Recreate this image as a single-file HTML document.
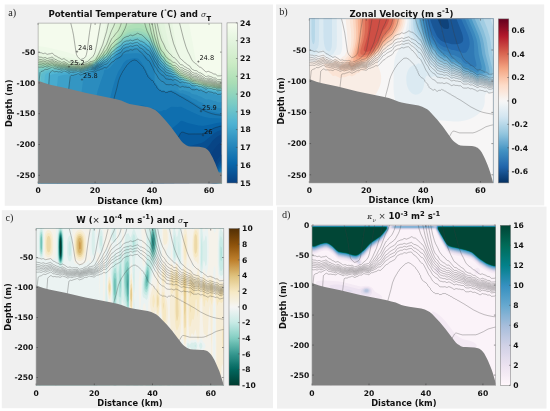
<!DOCTYPE html>
<html><head><meta charset="utf-8"><title>Figure</title>
<style>html,body{margin:0;padding:0;background:#fff}svg{display:block}</style></head>
<body>
<svg width="550" height="411" viewBox="0 0 550 411" font-family="'DejaVu Sans','Liberation Sans',sans-serif" font-weight="bold" font-size="7.6" fill="#111">
<rect width="550" height="411" fill="#fff"/>
<defs><clipPath id="ca"><rect x="38.1" y="23.1" width="183.7" height="160.2"/></clipPath><clipPath id="cb"><rect x="309.3" y="18.8" width="183.9" height="164.1"/></clipPath><clipPath id="cc"><rect x="36.1" y="228.7" width="187.7" height="156.6"/></clipPath><clipPath id="cd"><rect x="312" y="225.1" width="183.7" height="160.2"/></clipPath></defs>
<rect x="4.7" y="4.5" width="268.3" height="201.3" fill="#f0f0f0"/>
<rect x="276.1" y="4.4" width="268.1" height="201" fill="#f0f0f0"/>
<rect x="1.8" y="210.2" width="271.2" height="198" fill="#f0f0f0"/>
<rect x="277" y="206.6" width="269.5" height="202" fill="#f0f0f0"/>
<g clip-path="url(#ca)">
<rect x="37.1" y="22.1" width="185.7" height="162.2" fill="#084081"/>
<path fill="#084586" d="M36.6 21.6l187 0 0 120.1-2 0.4-2 1.2-2 1.8-3 3.5-2 3.2-8 15.1-3 4.6-4 3.8-5 5.2-4 3.7-1 0.5-1 0.1-3 0-1 0.3-0.5 0.5-145.5 0zM223.6 153.9l0 31.7-16.6 0 5.9-17 2.1-5 2.3-4 2.3-3.2 2-1.9 1-0.5z"/>
<path fill="#084f91" d="M36.6 21.6l187 0 0 112.6-2 0.3-2 0.7-2.3 1.4-2.7 2.1-1.8 1.9-3.2 4.2-5 5.9-3 2.9-13 6.7-2 0.1-3-0.6-1 0.1-1 0.5-1 2.2-3 10.8-4 12.2-137 0zM223.6 158.7l0 26.9-13.7 0 4-13 3.2-7 1.7-3 1.8-2.3 1-0.9 1-0.5z"/>
<path fill="#085a9d" d="M36.6 21.6l187 0 0 108.2-2 0.1-2 0.6-2.6 1.1-2.4 1.3-10 8.3-3 1.9-13 3.1-2-0.2-3-0.8-1-0.1-1 0.2-1 1.5-3 7.9-7 15.1-4.8 9.8-2.4 6-126.8 0zM223.6 161.6l0 24-12.4 0 3-10 3.1-7 1.7-3 1.6-2.3 1-0.9 1-0.6z"/>
<path fill="#0864a8" d="M36.6 21.6l187 0 0 104.3-4 0.5-5 1.5-5 2.7-6 2.8-2 0.5-13 0.1-2-0.5-3-1.1-2-0.2-1 1-3 5.2-7.8 11.2-8 13-6 11-5.6 12-113.6 0zM223.6 163.9l0 21.7-11.5 0 2.1-7 2-5 1.9-4 2.5-3.9 1-1 1-0.6z"/>
<path fill="#0f6faf" d="M36.6 21.6l187 0 0 100.9-3 0.1-4 0.5-3 0.6-4 1.1-6 1-2 0-3-0.4-10-2.2-6-2.3-1-0.2-1 0.4-3 2.9-7 5.4-5 5.8-2 1.8-4 4.3-6.2 5.3-4.8 6.2-3 3.1-3.9 5.7-4.5 8-3.4 7-3.7 9-93.5 0zM223.6 165.8l0 19.8-10.7 0 2.2-7 2.1-5 1.4-2.8 1.3-2.2 1.7-2 1-0.6z"/>
<path fill="#1878b4" d="M36.6 21.6l187 0 0 96.9-14-0.6-6-1.1-5-1.7-11-5.2-6-3-1-0.1-3 0.1-6-0.2-1 0.2-5 3.3-2-0.1-2 1.1-3 0.2-2-1.3-2-0.7-1-0.8-1-0.2-2 0.4-2 0.2-1-0.8-2-1.9-2-0.8-2-0.2-4 0.8-2 0.9-2 1.7-3.5 4.9-2.5 4-2.2 4-3.8 8-2 4.8-1 3-6 22.7-5.8 25.5-70.2 0zM223.6 167.4l0 18.2-10.1 0 2.5-7 3.2-7 1.4-2.2 1-1.1 1-0.7z"/>
<path fill="#2182b9" d="M36.6 21.6l187 0 0 91.9-3-0.2-3-0.3-7-1.8-5-1.8-7-3.6-10.1-6.2-8.9-4.5-4.2-2.5-4.7-2-1.1 0.7-2 0.2-1 0.7-1 0.1-2-1.7-2 0.4-0.4-0.4-2.6-1.4-0.6-0.6-0.3-1-0.9-1-0.2-0.9-2.6-3.1-0.2-1-0.9-1-0.3-0.9-2.8-3.1-2.2-2.9-3-6.2-3-5.1-3-3.4-1-0.6-3-0.3-4 0.6-2 0.7-2 0.5-3 2.9-3 5.5-1 1.3-1.3 2-2.7 6.6-3 9.8-8.2 34.6-3.8 17-3.1 16-5.2 30-55.7 0zM223.6 168.9l0 16.7-9.5 0 3-8 2.4-5 1.1-1.7 1-1.1 1-0.7z"/>
<path fill="#2b8cbe" d="M36.6 21.6l187 0 0 86.7-1-0.1-2 0.1-3-0.2-2-0.8-2-0.3-5-1.6-2-0.2-1-0.4-4-2.2-3-1.2-2-1.3-5-2.1-2-1.7-7-2.7-2-0.2-5-2.6-1-0.3-2 0.1-1-0.5-1-0.1-2 0.8-3 0.4-2-1.3-2 0-0.9-0.3-1.4-1-1.8-2 0-1-1-1-0.4-1-1.5-2-0.1-15-0.9-2.2-2-2.8-1.8-2-2.5-2-3.1-2-2.6-1.3-2.2-0.7-1.8-0.3-3 0-9 0.4-2 0.5-3 1.6-2 1.6-7 8.4-2 2.1-2 1.3-3 0.7-0.6 0.7-0.1 2-3.3 9.1-3 9.4-4.4 18.5-2.2 10-1.4 7.6-3 18.3-6.2 40.1-43.8 0zM223.6 170.2l0 15.4-8.9 0 2.6-7 2.3-4.8 2-2.7 1-0.7z"/>
<path fill="#3496c3" d="M36.6 185.6l0-164 187 0 0 80.5-1-0.2-2 0.4-3 0-2-1.2-2-0.2-2-0.8-3-0.9-2 0.3-1-0.2-5-2.9-1-0.1-1-0.3-1-0.8-1-0.5-2-0.1-3-0.9-2-2-2-0.3-2-0.6-1 0-2-0.7-1 0.1-1 0.6-0.9-0.2-1.2-1-0.1-5-0.7-1-1.1-0.5-0.4-0.5-6.6-4.6-4-2.4-2-1.6-2-2.6-5-8.4-3-4.3-2-2.5-2-1.8-2-1.3-3.1-1.5-2.9-1.1-3-0.6-4-0.1-8 0.5-2 0.3-1 0.4-2 1.1-2 1.4-2 2-6 7-2 1.9-1 0.6-2 0.8-5 0.5-2 0.6-3 1.6-5 3.4-6.7 3.7-0.3 0.4-1 0.6-10 75.7-4.6 33.3zM223.6 171.4l0 14.2-8.4 0 2.3-6 2.1-4.5 2-2.8 1-0.7z"/>
<path fill="#3ea1c9" d="M36.6 185.6l0-164 187 0 0 74.3-6-0.7-2-0.7-9-2.1-8-2.3-15-6.1-4-2-3-1.9-7-5.3-4-2.7-2-1.8-2-2.5-6-9.4-3-4.1-2-2.1-2-1.5-2.1-1.1-3.9-1.5-3-0.7-3-0.2-5 0.3-5 0.4-2 0.4-1 0.4-2 1.2-2 1.4-8 9.1-2 1.8-1 0.6-2 0.8-5 0.9-2 0.6-2.7 1.5-5.3 3.6-8 3.8-12.6 2.6-0.9 1-13 108zM223.6 172.5l0 13.1-7.9 0 2.3-6 2-4 1.6-2.1 1-0.7z"/>
<path fill="#47abcf" d="M36.6 185.6l0-164 187 0 0 72.5-5-0.7-6-1.2-15-4-13-5.3-5-2.4-2-1.3-3-2.3-5-4.1-4-3-2-1.9-2-2.5-5-7.9-4-5.4-2-2.2-2-1.4-2-1.1-4-1.4-3-0.7-4-0.1-5.9 0.4-4.1 0.6-2 0.7-2 1.2-2 1.5-7 8.1-3 2.8-1 0.6-2 0.9-5 1.1-2 0.7-3 1.8-5 3.4-7 3.3-3 0.7-17 1.8-4 0.8-2.6 1-8.4 83.5-2.2 25.5zM223.6 173.6l0 12-7.4 0 1.9-5 2-4 1.5-2 1-0.8z"/>
<path fill="#51b5d2" d="M36.6 185.6l0-164 187 0 0 71.1-5-0.6-5-0.9-16-4-13-5.3-4-1.9-3-1.9-12-10.1-2-2-2.6-3.4-5.4-8.3-3-4.1-2-2.2-2-1.4-2-1.1-4-1.4-3-0.6-4-0.1-6 0.4-4 0.7-2 0.8-2 1.3-2 1.5-7 8.3-3 2.7-3 1.5-5 1.5-2 0.7-2.9 1.8-5.1 3.6-7 3.1-2 0.5-2 0.2-16 0.8-8 0.7-5 1-2.3 1.1-5.5 82-2.4 28zM223.6 174.6l0 11-7 0 2-5 2-3.7 1-1.3 1-0.8z"/>
<path fill="#5dbbce" d="M36.6 167.8l0-146.2 187 0 0 70-5-0.4-5-0.9-14-3.3-6-2.1-9-3.8-4-2-2-1.2-2.8-2.3-10.1-9-1.9-2-2.4-3-5.8-8.9-3-4.1-2-2.2-2-1.5-2-1.1-4-1.4-3-0.6-4-0.1-6 0.5-3 0.5-3 1.1-2 1.4-2 1.6-6.5 7.8-1.5 1.6-2 1.7-3 1.6-7 2.5-2 1.2-6 4.2-6 2.7-3 0.9-3 0.2-19 0.3-7 0.3-5 0.8-2 1-1.2 1-0.5 1-1.9 31-1.8 23-1.6 15.4zM223.6 175.6l0 10-6.6 0 2.1-5 1.5-2.8 1-1.2 1-0.8z"/>
<path fill="#69c2ca" d="M36.6 21.6l187 0 0 69.2-5-0.5-6-0.9-14-3.3-6-2.2-7-3-4-2-3-1.8-2-1.6-12-11.4-3-3.7-5-7.7-5-6.8-2-1.9-3-1.8-3-1.1-3-0.7-4-0.3-7 0.5-3 0.6-2 0.8-2 1.1-2 1.6-2 2-3 3.9-3 3.4-3 2.7-3 1.7-7 2.8-2 1.2-6 4.4-5 2.3-3 1-3 0.3-25-0.1-6.7 0.3-3.7 1-1.7 1-1.2 1-1 1-1.7 18.7-3 25.4zM223.6 176.4l0 9.2-6.2 0 1.7-4 1.5-2.8 1-1.3 1-0.8z"/>
<path fill="#75c8c6" d="M36.6 21.6l187 0 0 68.4-4-0.2-6-0.9-8-1.6-7-1.8-4-1.4-11-4.8-3-1.6-2-1.3-3.2-2.8-11-11-2.8-3.5-5-7.8-3-4.2-3-3.7-2-1.7-2-1.1-4-1.4-3-0.6-4 0-6 0.5-2 0.4-3 1.1-2 1.2-3 2.6-6 7.4-2 2.2-2 1.7-3 1.8-7 3-8 5.7-6 2.6-3 0.8-4 0.2-25-0.6-6 0.1-4 0.9-3.3 1.4-2 1-1.3 1-0.4 1.1zM223.6 177.3l0 8.3-5.8 0 1.2-3 1.6-2.9 1-1.4 1-0.8z"/>
<path fill="#81cec2" d="M36.6 21.6l187 0 0 67.7-5-0.3-6-0.8-6-1.2-8-2-5-1.8-7-3-6-3.1-2.1-1.5-2.9-2.5-11.1-11.5-2.9-3.8-5-7.8-3-4.2-3-3.9-2-1.7-2-1.2-4-1.4-3-0.6-4-0.1-6 0.6-2 0.4-3 1.3-2 1.3-3 2.7-3.3 4.4-4.7 5.3-2 1.8-3 1.8-7 3.3-8 5.8-6 2.7-3 0.7-4 0.2-26-1-5 0-3.8 0.4-7.2 1.6zM223.6 178.1l0 7.5-5.4 0 1.4-3.3 1-1.8 1-1.3 1-0.8z"/>
<path fill="#8dd3be" d="M36.6 21.6l187 0 0 67.1-5-0.2-5-0.7-8-1.6-7-1.7-4-1.4-7-3-4-1.9-3-1.7-2-1.4-2.8-2.5-11.1-12-3.1-4-5-7.9-4-5.7-2-2.6-2-1.8-2-1.3-4-1.4-3-0.7-4 0-6 0.6-2 0.6-3 1.4-2 1.4-3 2.7-4.2 5.7-3.8 4.3-2 1.8-3 1.9-7 3.6-8 5.9-4 1.9-3 1.1-3 0.5-4 0-29-1.4-4 0.1-8 0.9zM223.6 178.9l0 6.7-5.1 0 1.4-3 1.7-2.6 1-0.8z"/>
<path fill="#99d7ba" d="M36.6 21.6l187 0 0 66.5-5-0.2-6-0.7-6-1.2-8-1.9-4-1.4-7-3.1-4-1.9-3-1.8-2-1.4-3.1-2.9-10.7-12-3.2-4.3-5-7.9-4-5.8-3-3.7-2-1.7-2-1.1-3-1.1-3-0.7-4 0-6 0.7-2 0.6-3 1.7-2 1.5-3 2.9-4 5.6-3.7 4.3-2.3 2.1-3 2-8 4.5-7 5.4-2 1-4 1.6-3 0.8-3 0.1-31-1.8-12 0.4zM223.6 179.7l0 5.9-4.7 0 1.7-3.5 1-1.3 1-0.9z"/>
<path fill="#a5dcb6" d="M36.6 21.6l187 0 0 65.9-5-0.1-5-0.6-6-1-9-2.2-4-1.4-7-3-4-2-3-1.8-2.3-1.8-3.1-3-9.5-11-4.1-5.5-9-14.1-3-3.9-2-1.9-2-1.2-3-1.2-3-0.8-4 0-6 0.9-2 0.8-2 1.2-3 2.3-3 3.1-4 5.8-3.8 4.5-2.2 2-4.2 3-6.8 4.1-7 5.4-2 1.1-4 1.5-3 0.7-4 0.1-30-2-12 0zM223.6 180.4l0 5.2-4.4 0 1.4-2.7 1-1.4 1-0.8z"/>
<path fill="#afe0b8" d="M36.6 21.6l187 0 0 65.4-5-0.1-6-0.7-7-1.3-7-1.7-4-1.4-7.2-3.2-3.8-1.9-3.3-2.1-2.5-2-1.9-2-10.1-12-4.2-5.8-10-15.9-3-4-2-1.8-2-1.2-3-1.3-2-0.5-3-0.1-3 0.4-4 0.8-2 1.1-4 3.2-4 4.3-4 6-4 4.8-2 1.9-5.5 4.1-5.5 3.5-7 5.6-5 2.2-3 0.9-4 0.2-31-2.3-12-0.3zM223.6 181.1l0 4.5-4 0 1-2 1-1.4 1-0.8z"/>
<path fill="#b9e3bc" d="M36.6 21.6l187 0 0 64.8-5 0-6-0.7-6.2-1.1-7.8-1.8-5-1.9-7-3.2-3.9-2.1-3-2-2.2-2-2.8-3-6.5-8-3-4-3.6-5.2-10-16.6-4-6-2-1.8-3-2.1-2-1.1-2-0.5-2 0-3 0.7-4 1.4-1 0.7-5 5.1-4 4.8-4 6.4-3 3.8-2.2 2.4-6 5-5.8 3.8-6 5.1-2 1.2-3 1.3-4 1.3-4 0.2-31-2.5-12-0.6zM223.6 181.8l0 3.8-3.7 0 1.7-2.7 1-0.9z"/>
<path fill="#c3e7c1" d="M36.6 62.5l0-40.9 91.2 0-2.4 4-5.8 8.1-4 6.9-4.6 6-3.1 3-4.6 4-4.7 3.2-6 5.1-2.8 1.7-5.2 1.9-2 0.4-2 0-4-0.2-28-2.5zM145.9 21.6l77.7 0 0 64.2-5 0-6-0.6-7-1.2-7-1.7-4.6-1.7-6.6-3-3.8-2-4-2.7-2.4-2.3-3.5-4-6.2-8-4.1-6-2.8-4.4-6.1-10.6-4.9-9-3-6.1zM223.6 182.4l0 3.2-3.3 0 1.3-2 1-0.9z"/>
<path fill="#ccebc6" d="M36.6 61.6l0-40 87.5 0-7.5 15-3 4.8-2.3 3.2-2.7 3-5.2 5-4.8 3.5-5 4.5-3 2.1-6 2.3-2 0.3-2 0.1-32-3zM148.8 21.6l74.8 0 0 63.6-5 0.1-6-0.6-6.4-1.1-7.6-1.8-5.8-2.2-6.3-3-3.5-2-3.4-2.4-3.5-3.6-6.2-8-4.2-6-4.1-6.4-7.8-14.6-3.1-7zM223.6 183.1l0 2.5-2.9 0 0.9-1.4 1-0.8z"/>
<path fill="#d1edcb" d="M36.6 60.6l0-39 83.7 0-2.5 8-2 5-2.7 5-2.7 4-7 8-4.8 3.8-6 5.4-3 1.8-3 1.2-3 0.8-4 0.1-31-3.1zM151.2 21.6l72.4 0 0 63-5 0.1-5-0.4-5-0.8-9-1.9-5.5-2-6.5-3-5-2.9-3-2.3-2-1.9-2-2.4-6.3-8.5-3.9-6-3.8-6.5-2.8-5.5-3.8-8-1.9-5zM221.1 185.6l0.5-0.7 1-0.9 1-0.3 0 1.9z"/>
<path fill="#d7efd1" d="M36.6 59.6l0-38 80.4 0-1.4 6.2-1.8 5.8-2.2 5-2.3 4-4.3 6-1.7 2-4.7 3.9-5.4 5.1-2.9 2-5.7 2.2-2 0.3-2 0-32-3.4zM153.7 21.6l69.9 0 0 62.2-5 0.2-6-0.4-6-1-8.4-2-5.1-2-6.2-3-3.3-2-4-3-2-2-2-2.5-6-8.7-3-4.8-4.9-9-2.4-5-2.7-7-1.6-5zM223.6 184.3l0 1.3-2.1 0 1.1-1z"/>
<path fill="#dcf1d7" d="M36.6 58.5l0-36.9 77.1 0-1.5 8-1.3 5-2 5-3.1 6-2 3-1.2 1.4-4 3.6-5.1 5-2.9 2.1-4 1.7-2 0.6-2 0.4-2 0-31-3.6zM156.3 21.6l67.3 0 0 61.4-6 0.2-6-0.5-6.7-1.1-6.3-1.5-3.9-1.5-8.2-4-3.1-2-3.8-3-2-2.2-2-2.6-4.1-6.2-3.9-6.7-4-7.9-2-4.3-2-5.3-2-6.8zM222.1 185.6l0.5-0.4 1-0.3 0 0.7z"/>
<path fill="#e2f4dd" d="M36.6 57.2l0-35.6 74.3 0-1.4 8-1.3 6-2 6-1.7 4-2.1 3-7.8 8-3 2.6-2 1.1-3 1.3-2 0.6-2 0.4-2 0-16-2.2zM159.1 21.6l64.5 0 0 60.4-5 0.3-6-0.3-5-0.7-8-1.7-5.3-2-6-3-4.7-3-3.6-3-2.4-2.8-3-4.4-5-8.8-2-4.3-3.1-7.7-2.8-8-1.1-3.9zM223.2 185.6l0.4-0.1 0 0.1z"/>
<path fill="#e8f6e2" d="M36.6 55.5l0-33.9 72.1 0-1.4 9-1.2 6-1.4 5-1.1 2.6-2.3 3.4-7 8-2.7 2.5-2.7 1.5-4.3 1.6-2 0.3-2 0-15-2.4-17-2.2zM163.9 21.6l59.7 0 0 59.1-5 0.4-6-0.2-6-0.8-7-1.6-5-1.9-5.8-3-4.4-3-3.3-3-2.5-2.9-2-3.1-3-5.8-3-7.2-2-5.9-1-3.6-2-8.8z"/>
<path fill="#eef9e8" d="M36.6 53l0-31.4 69.7 0-1.7 10.6-1 4.4-1 3.4-1.5 3.6-3.1 5-4.4 5.8-2.3 2.2-3.6 2-2.5 1-1.6 0.4-2 0.1-2-0.1-2.1-0.4-4.9-1.4-6-1-19-2.8zM172 21.6l51.6 0 0 57.1-5 0.6-5 0-6.7-0.7-4.6-1-3.4-1-2.3-0.9-3.9-2.1-4.7-3-3.3-3-2.3-3-1.7-3-1.1-2.5-1.2-3.5-2.2-10z"/>
<path fill="#f4fbed" d="M36.6 21.6l63 0-1.9 13-1 5-1 4-1.1 3.3-1 2.1-1.6 2.6-1.4 1.7-1.5 1.3-3.5 2.2-2 0.7-2 0.2-1.4-0.1-1.6-0.4-1.4-0.6-4.6-2.7-6-1.8-20-4.8-10-1.6zM188.7 21.6l33.9 0 0 3 1 1 0 46.1-2 1-4 1.1-4 0.4-4-0.1-4-0.5-2.7-1-1.7-1-2.1-2-1.7-3-1.3-5z"/>
<path d="M179.2 21.6l4.4 17.4 2.3 7.6 1.9 5 1.8 3.4 2 4.4 1 1.5 2 2.1 1 0.7 1 0.5 1 0.9 1 1.3 1 0.7 1 0.2 1 0.7 4 3.6 1 0.3 1-0.4 1-0.1 2 1 1 0.3 2 1.2 2 0.3 2 1.7 3-0.1 2-0.7 1 0.4M70.4 21.6l2.2 9 1 5.1 2.3 15.9 0.6 3 1 2 2.1 2.3 1 0.7 3-1.1 1-0.7 1-1.2 0.8-2 0.6-3 2.5-19 1.8-11M168.4 21.6l2.8 13 2.4 9 3.1 8 2.9 5.9 1 1.4 2 1.4 2 2.2 1 0.6 2 1.7 2 1.1 2 2.9 1 0.7 2 1 2 0.2 1 0.7 1 1.1 1 0.4 1 0 4 2.7 1 0.9 1 0.2 1-0.6 1-0.2 1.7 0.7 1.3 0.3 2 1.1 2 0.1 2 1.7 3-0.2 2-0.9 1 0.4M156.8 21.6l1.8 8.8 2 7.2 1 2.7 2 3.7 2 4.6 1 1.5 2 2.5 1 1.1 1 0.7 2 2.5 1 0.7 1 0.3 1 0.9 3 3.6 1 1.4 0.9 0.8 2.1 0.4 2 1.7 1 0.4 2 1.3 2 0.8 2 2.7 1 0.6 2 0.7 2 0.1 1 0.6 1 1 1 0.3 1 0 1 0.5 1 0.9 2 1.1 1 0.9 1 0.2 1-0.6 1-0.3 2 0.8 1 0.1 2 1.1 2 0 2 1.7 3-0.3 2-0.8 1 0.3M36.6 53.6l1-1 1-0.3 1 0.3 2 0.3 1 0.5 1 0.2 1-0.4 1 0.1 1 0.7 1 0.3 1-0.3 2-0.3 1-0.4 1 0 2 2.2 2 0.8 1.8 1.3 1.2 0.4 2 1.3 1-0.1 1-0.5 1 0.3 1 0.8 2 1.2 1 0.9 1 0.3 1-0.3 1 0 1 0.6 1 0.2 1-0.1 2 0.1 1-0.2 1 0.1 2 1.6 3-0.9 2-1.2 2-0.4 1-1 1-1.3 2-1.5 1.2-1.3 1.3-2 0.8-2 0.7-2.5 1-4.9 4.1-23.6M154.4 21.6l2.8 15 1.3 6 1.1 3.8 1 2.7 1 1.7 2 2 2 3.6 1 1.1 2.6 2.1 1.4 0.6 2 1.8 1 0.4 1 0 1 0.5 3 3 1 1.2 1 0.7 1-0.1 1 0.2 2 1.4 1 0.3 2 1.1 1 0.2 1 0.5 2 2.6 1 0.5 2 0.6 2 0 1 0.5 1 1 1 0.3 1-0.1 1 0.5 1 0.8 2 1.1 1 0.9 1 0.2 1-0.7 1-0.3 2 0.7 1 0.2 2 1 2 0.1 2 1.6 3-0.3 2-0.9 1 0.4M36.6 58.1l1-1 1-0.3 1 0.3 2 0.2 1 0.5 1 0.2 1-0.4 1 0 1 0.7 1 0.2 1-0.4 2-0.4 1-0.5 1 0 2 2 2 0.7 1 0.7 1 0.5 1 0.2 2 1.1 1-0.2 1-0.5 1 0.1 1 0.8 2 1.1 1 0.8 1 0.2 1-0.4 1-0.1 1 0.5 1 0.2 1-0.3 2 0 1-0.4 1 0.1 2 1.5 3-0.8 2-1.2 2-0.2 1-0.7 1-1 1-0.4 1 0 3-0.8 1-1 3-5.6 4-9.2 4-13.3 2.2-10M151.7 21.6l2.9 14.5 2.8 9.5 1.3 4 1.8 4 1.1 2.1 2 1.6 2 3.4 1 0.9 3 1.9 1 0.2 1 0.7 1 0.9 1 0.3 1-0.2 1 0.4 3 2.6 1 1.2 1 0.6 1-0.2 1 0 2 1.3 1 0.2 2 1.1 1 0.1 1 0.4 2 2.5 1 0.5 2 0.5 2-0.1 1 0.5 1 1 1 0.3 1-0.1 1 0.4 1 0.8 2 1.1 1 0.8 1 0.2 1-0.7 1-0.3 2 0.7 1 0.1 2 1.1 2-0.1 2 1.7 3-0.4 2-0.8 1 0.4M36.6 60.4l1-1 1-0.3 1 0.3 2 0.2 1 0.5 1 0.1 1-0.4 1 0 1 0.6 1 0.3 2-0.8 1-0.1 1-0.5 1-0.1 2 2 2 0.6 2 1.1 1 0.1 2 1.1 1-0.2 1-0.6 1 0.1 3 1.7 1 0.8 1 0.3 1-0.5 1-0.1 1 0.5 1 0.1 1-0.3 2-0.1 1-0.4 1 0.1 2 1.5 3-0.9 2-1.2 1-0.1 1 0.1 1-0.7 1-0.9 1-0.3 1 0.1 2-0.2 1 0.1 1-0.7 2-3.1 1.3-1.6 3.7-5.8 2-4.3 2-3.3 5-13.7 2-4 1.9-4.9M148.9 21.6l2.4 11 2.3 8.6 1 3.4 4 9.6 3 4.8 2 1.7 2 3.1 1 0.8 2 1.2 1 0.5 1 0.2 1 0.5 1 0.9 1 0.1 1-0.2 1 0.3 3 2.4 1 1.1 1 0.5 1-0.2 1 0 2 1.1 1 0.2 2 1 1 0.1 1 0.3 2 2.5 1 0.4 2 0.5 2-0.2 1 0.5 1 0.9 1 0.3 1-0.1 1 0.4 1 0.8 2 1 1 0.8 1 0.2 1-0.7 1-0.3 2 0.6 1 0.2 2 1 2-0.1 2 1.6 3-0.3 2-0.9 1 0.4M36.6 62.3l1-1.1 1-0.3 1 0.3 2 0.2 1 0.4 1 0.1 1-0.4 1 0 1 0.6 1 0.2 2-0.8 1-0.2 1-0.4 1-0.1 2 1.9 2 0.5 1 0.6 1 0.5 1 0.1 2 1 1-0.3 1-0.6 1 0.2 3 1.6 1 0.8 1 0.2 1-0.5 1-0.1 1 0.4 1 0.1 1-0.3 2-0.1 1-0.4 1 0 2 1.5 3-0.8 2-1.2 1-0.2 1 0.1 2-1.4 1-0.2 1 0.2 2 0 1 0.2 1-0.6 2-2.7 1.7-1.7 1.3-1.8 2-2.3 2-3.6 2-2.2 5-10.8 1-1.3 1-0.9 2-2.8 2-2.2 1.3-2.1 1.7-4 1.1-4M144.4 21.6l0.9 4 1.6 5 2.7 5.7 5 13.4 4 8.2 3 3.9 2 1.7 2 3 1 0.8 2 1.1 1 0.4 1 0 1 0.6 1 0.7 1 0.1 1-0.3 1 0.3 3 2.2 1 1.1 1 0.5 1-0.3 1-0.1 2 1.1 1 0.1 2 0.9 1 0.1 1 0.3 2 2.4 1 0.4 2 0.4 2-0.2 1 0.4 1 0.9 1 0.2 1-0.1 1 0.4 1 0.8 2 1 1 0.8 1 0.1 1-0.7 1-0.3 2 0.6 1 0.2 2 1 2-0.1 2 1.6 3-0.4 2-0.8 1 0.4M36.6 64l1-1 1-0.4 1 0.3 2 0.1 1 0.4 1 0.1 1-0.4 1-0.1 1 0.6 1 0.2 2-0.8 1-0.2 1-0.5 1-0.1 2 1.9 2 0.4 1 0.6 1 0.4 1 0.1 2 0.9 1-0.3 1-0.6 1 0.1 3 1.6 1 0.8 1 0.2 1-0.5 1-0.2 1 0.5 1 0.1 1-0.4 2-0.1 1-0.4 1 0 2 1.5 3-0.9 2-1.2 1-0.1 1 0.1 2-1.4 1-0.1 1 0.3 2 0.1 1 0.2 1-0.4 2-2.5 1-0.6 0.7-0.7 1.3-1.5 2-1.9 2-3 2-1.7 5-9.3 1-1 1-0.7 2-2.4 2-1.2 3-2.4 1-1.4 3.4-6.5 1.1-3 0.9-4M36.6 66l1-1.1 1-0.4 1 0.2 2 0.1 1 0.4 1 0 1-0.5 1-0.1 1 0.6 1 0.1 1.6-0.7 1.4-0.4 1-0.5 1-0.1 2 1.8 2 0.4 1 0.5 1 0.4 1 0 2 1 1-0.4 1-0.6 1 0.1 3 1.5 1 0.8 1 0.2 1-0.6 1-0.1 1 0.4 1 0.1 1-0.4 2-0.2 1-0.3 1-0.1 2 1.5 3-0.9 2-1.2 1-0.1 1 0.2 2-1.4 1-0.1 4 0.9 1-0.4 2-2.2 1.5-0.8 1.5-1.5 1.9-1.5 2.1-2.7 1-0.5 1-0.7 5-8.3 1-0.9 1-0.5 2-2.3 2-1 2-1.4 1-0.4 1-1.1 1-1.7 1-1.1 3-1.4 2-0.4 1-0.8 1-0.4 2 0.7 3-1.3 2-1.2 1 0.4 1 0.7 2 0.5 3 2.5 2 2.4 2 1.6 1 1.4 3 6.3 2 4.8 2 3.4 2 4 3 3.3 2 1.7 2 2.9 1 0.7 3 1.3 1 0 1 0.5 1 0.7 1 0.1 1-0.4 1 0.2 3 2.1 1 1 1 0.5 1-0.4 1-0.1 2 1 1 0.1 2 0.8 1 0.1 1 0.2 2 2.4 1 0.4 2 0.3 2-0.3 1 0.5 1 0.8 1 0.2 1-0.1 1 0.4 1 0.7 2 1 1 0.8 1 0.1 1-0.7 1-0.3 2 0.6 1 0.1 2 1 2-0.1 2 1.6 3-0.4 2-0.9 1 0.4M36.6 68.7l1-1.2 1-0.4 1 0.1 2-0.2 1 0.3 1-0.1 1-0.6 1-0.1 1 0.5 1 0 1-0.5 2-0.7 1-0.5 1-0.2 2 1.7 2 0.3 2 0.9 1 0 2 0.9 1-0.4 1-0.7 1 0.1 3 1.5 1 0.7 1 0.2 1-0.6 1-0.1 1 0.4 1 0.1 1-0.4 2-0.2 1-0.4 1-0.1 2 1.5 3-0.9 2-1.2 1-0.1 1 0.1 2-1.3 1-0.1 1 0.4 2 0.2 1 0.4 1-0.4 1-1.2 1-0.9 1-0.3 4-2.8 2-2.2 1-0.3 1-0.4 3-4.2 2-3.1 1-0.7 1-0.5 2-2.3 4-2.4 1-0.4 1-1.1 1-1.7 1-1 3-1.2 2 0 1-0.6 1-0.3 1 0.5 1 0.3 2-0.9 3-0.8 1 0.7 1 1 1 0.4 1 0.1 3 1.7 1 0.9 1 1.2 1 0.7 1 0.3 1 1.1 3 5.8 2 4.4 2 3.1 2 3.8 3 3.1 2 1.5 2 2.9 1 0.6 3 1.1 1-0.1 1 0.5 1 0.7 1 0 1-0.5 1 0.3 3 1.9 1 1 1 0.4 1-0.4 1-0.2 2 1 1 0 2 0.8 1 0 1 0.2 2 2.3 1 0.3 2 0.3 2-0.3 1 0.4 1 0.8 1 0.2 1-0.2 1 0.4 1 0.7 2 1 1 0.8 1 0.1 1-0.7 1-0.4 2 0.6 1 0.1 2 0.9 2 0 2 1.5 3-0.4 2-0.8 1 0.4M36.6 103.4l3.4-30.8 1-1 2.6-1 1.1-1 0.9-0.3 1 0.2 1-0.1 1.3-0.8 1.7-0.7 1-0.6 1-0.2 2 1.6 2 0.1 2 0.7 1 0 2 0.8 1-0.4 1-0.7 1 0 3 1.4 1 0.7 1 0.2 1-0.6 1-0.2 1 0.4 1 0.1 1-0.4 2-0.3 1-0.4 1 0 2 1.4 3-0.9 2-1.2 1-0.1 1 0.1 2-1.3 1-0.1 1 0.4 2 0.2 1 0.4 1-0.4 1-1.1 1-0.8 1-0.3 1-0.5 1-0.8 2-1.1 2-2 1-0.1 1-0.3 3-3.7 2-3 1-0.6 1-0.3 2-2.1 5-2.5 1-1.1 1-1.7 1-1.2 3-1.3 2-0.1 1-0.7 1-0.3 2 0.7 2-0.9 2-0.4 1-0.1 1 0.9 1 1.2 1 0.5 1 0.2 2 1.5 1 0.5 1 1 1 1.3 1 0.6 1 0.3 1 1 3 5.6 2 4.3 2 2.8 2 3.8 3 2.9 2 1.3 2 2.8 1 0.6 1 0.1 1 0.5 1 0.1 1 0 1 0.3 1 0.7 1-0.1 1-0.4 1 0.1 3 1.8 1 1 1 0.3 1-0.4 1-0.2 2 0.9 1 0 2 0.7 1-0.1 1 0.2 2 2.3 1 0.3 2 0.2 2-0.4 1 0.4 1 0.7 1 0.2 1-0.2 1 0.4 1 0.7 2 0.9 1 0.8 1 0.1 1-0.8 1-0.3 2 0.5 1 0.1 2 0.9 2-0.1 2 1.6 3-0.4 2-0.9 1 0.4M41.4 185.6l2.3-27 5.8-85 0.5-1 1.6-1.4 1-0.6 2 1.2 2-0.3 2 0.5 1-0.2 2 0.6 1-0.5 1-0.8 1 0 3 1.2 1 0.7 1 0.1 1-0.6 1-0.2 1 0.3 1 0 1-0.4 2-0.3 1-0.4 1-0.1 2 1.4 3-1 2-1.2 1-0.1 1 0.1 1-0.5 1-0.8 1 0 3 0.6 1 0.4 1-0.4 1-1.1 1-0.7 1-0.2 1-0.4 1-0.7 2-0.9 1-1 1-0.7 1 0.1 1-0.2 3-3.3 2-2.8 1-0.6 1-0.3 2-2.1 2-0.8 1-0.7 2-0.9 1-1.1 1-1.8 1-1.2 3-1.3 2-0.2 1-0.7 1-0.4 2 0.6 2-0.9 2-0.4 1 0.1 2 2.3 1 0.6 1 0.3 3 2.6 2 2.5 1 0.8 1 0.3 1 1 3 5.6 2 4.3 2 2.7 2 3.8 3 2.7 2 1 2 2.8 1 0.4 1 0.1 1 0.3 1 0.1 1-0.2 1 0.3 1 0.6 1-0.1 1-0.5 1 0.1 3 1.7 1 0.9 1 0.3 1-0.5 1-0.2 2 0.8 1-0.1 2 0.6 1 0 1 0.1 2 2.2 1 0.2 2 0.2 2-0.5 1 0.3 1 0.8 1 0.1 1-0.2 1 0.4 1 0.6 2 0.9 1 0.8 1 0 1-0.7 1-0.4 2 0.5 1 0.1 2 0.9 2-0.1 2 1.5 3-0.4 2-0.9 1 0.4M57.1 185.6l13.1-109 0.7-1 0.7-0.2 1 0.1 1-0.1 1-0.5 2-0.5 1-0.6 1-0.1 2 1.3 3-1.1 2-1.4 1-0.1 1 0.1 1-0.5 1-0.8 1 0 3 0.6 1 0.4 1-0.4 1-1.1 1-0.6 1 0 1-0.2 1-0.6 2-0.6 1-0.7 1-0.5 1 0.2 1 0.1 3-2.9 2-2.6 1-0.5 1-0.3 2-2.1 2-0.9 1.4-0.9 1.6-0.7 1-1.2 1-1.9 1-1.2 3-1.6 2-0.2 1-0.8 1-0.4 2 0.5 2-1 2-0.2 1 0.1 2 2.5 2 1.3 3 3.5 2 3 1 0.9 1 0.4 1 1.1 3 5.8 2 4.5 2 2.8 2 3.7 3 2.7 2 0.7 2 2.4 1 0.3 1 0 1 0.1 1 0 1-0.2 1 0.2 1 0.6 1-0.2 1-0.6 1 0.1 3 1.6 1 0.8 1 0.2 1-0.5 1-0.3 2 0.7 1-0.1 2 0.5 1-0.1 1 0.1 2 2 1 0.2 2 0.1 2-0.6 1 0.3 1 0.8 1 0.1 1-0.3 1 0.3 1 0.7 2 0.8 1 0.7 1 0.1 2-1.2 1 0.4 2 0.3 1.2 0.4 0.8 0.5 2-0.1 1 0.6 1 0.9 3-0.3 0.9-0.6 1.1-0.2 1 0.2M96.8 185.6l4.3-25 5.1-26 6.4-30.3 1-4.2 3.4-12.5 1.6-7.1 0.4-0.9 0.6-2 0.6-1 0.3-1 0.7-1 0.4-1.1 0.7-0.9 0.3-1 1.5-2 0.5-1.1 1.5-1.9 0.5-1 4-4 1-0.4 0.7-0.6 2.3-0.6 2 0.6 5 4.7 2 2.3 0.2 1 0.8 0.9 0.5 1.1 0.5 0.7 0.3 1.3 0.7 0.9 0.2 1.1 0.8 1 0.2 1 2.8 2.9 1 0.9 1 0.2 1 1 0 1 1 1 0.3 1 1.7 1.9 0.2 1.1 2.8 2.9 1 0.1 1 1 3 0 1 1 2-0.2 1-0.8 2-0.1 1.2 0.1 0.8 0.7 1.1 0.3 0.9 0.7 1 0.3 1 0.8 0.5 0.2 1.7 1 0.8 0.6 1.1 0.4 0.9 0.7 0.8 0.3 4.2 2.6 1 0.4 1 0.7 4 2.4 7 4.6 6 3.1 3 1.2 3 1 4 1 8 1M150.2 185.6l2.7-6 2.9-6 3.1-6 3.5-6 7.4-12 7.8-11.2 3-5.2 1-1 1 0 1 0.2 3 1.1 2 0.5 13-0.1 2-0.5 6-2.8 3.5-2 1.5-0.7 5-1.5 2-0.4 2-0.1" fill="none" stroke="#1a1a1a" stroke-width="0.42" stroke-opacity="0.85" stroke-linejoin="round"/>
<path d="M37.9 183.5l0-102.8 0.2 0 6.4 2.4 5.7 1.7 16.3 3.4 19.8 4.9 29.1 6 5.7 1.5 6.4 2.6 2.1 0.7 5.7 1.1 12 1.9 2.9 0.8 2.8 1.3 2.1 1.1 2.2 1.6 2.1 2.1 5.7 6.1 2.8 3.3 3.5 4.4 9.3 12.7 1.4 1.7 1.4 1.2 2.8 2 2.2 1 2.1 0.3 8.5 0.3 2.8 0.4 2.2 0.5 1.4 0.5 2.1 1.6 1.4 1.5 0.7 1 2.9 5.2 2.8 6.2 2.9 7.5 0.7 1.2 2.8 0 0.2 0 0 11.1z" fill="#808080"/>
</g>
<g clip-path="url(#cb)">
<rect x="308.3" y="17.8" width="185.9" height="166.1" fill="#053061"/>
<path fill="#053061" d="M307.8 17.3l187 0 0 168-187 0z"/>
<path fill="#0f437b" d="M307.8 17.3l187 0 0 168-187 0z"/>
<path fill="#195696" d="M307.8 17.3l129.4 0 0.6 2.5 2 4.4 1 1.6 3 2.6 1 0.4 3 0.3 1-0.9 0.3-1.9-0.3-2.8-1-4.2 0-2 47 0 0 168-187 0z"/>
<path fill="#2369ad" d="M307.8 17.3l122.1 0 0.3 2 0.6 2.3 2 5.6 4 8.5 1 1.6 2 2.2 1 0.9 3 1.7 1 0.3 2 0.3 5 1.6 4-0.1 3-0.2 2-0.7 1.4-1 0.6-1 0.3-1 0.1-2-0.6-3-0.9-3-5.1-13-0.2-2 38.4 0 0 168-187 0z"/>
<path fill="#2f79b5" d="M307.8 17.3l118.9 0 0.2 2 1.6 6 1.3 4.3 0.7 1.7 2.3 4.2 2 2.6 2 3.4 1 1.2 3 2.6 3 1.7 1 0.3 2 0.3 5 2.3 2 0.1 7 1.9 2 1 1 0.2 2-0.6 1-0.9 1-1.5 1-2.2 0.5-1.6 0.3-2 0-2-0.4-3-1.1-4-2.3-5.8-4.5-10.2-0.2-2 33.7 0 0 168-187 0z"/>
<path fill="#3b88be" d="M307.8 17.3l116.6 0 0.4 3.3 1.3 5.7 2.4 7 1.3 3 2.1 3 2.9 3.1 2 3 1 1.1 3 2.5 2 1 1 0.8 1 0.4 1 0 1 0.3 5 3.4 2 0 2 1.1 2 0.9 1 0.7 2 1 2 3 1 1 2 1.1 1 0.4 1-0.1 1 0.6 1 1.2 1 0.5 1-0.2 1 0.2 1 0.6 1 0.2 1-0.4 0.5-0.4 0.2-1-0.3-2-1.2-5-0.7-4-0.2-9-0.4-4-1.1-4-1.4-4-6.1-14-0.2-2 29.9 0 0 168-187 0z"/>
<path fill="#4c99c6" d="M307.8 17.3l114.5 0 0.5 3.4 1.8 7.6 1.2 4.2 1.2 2.8 2.8 5.5 3 3.3 2 1.6 2 3 1 1.1 3 2.5 2 1.1 1 0.9 1 0.4 1-0.1 1 0.3 5 4 2-0.1 2 1.3 1 0.3 2 1.3 2 0.9 2 3 1 0.8 2 1 1 0.2 1 0 1 0.5 1 1.2 1 0.5 1-0.1 1 0.4 1 0.8 2 1 1 0.8 1 0.1 2-2.3 1.4-1.2 0.4-1 0.1-1-0.3-2-2.7-11-1.1-10-1-5-2.5-7-5.7-13-0.2-2 26.6 0 0 168-187 0z"/>
<path fill="#6bacd1" d="M307.8 17.3l112.7 0 0.5 4 1.4 6 2.2 7 1.2 3.3 4 6.8 3 2.9 2 1.4 2 3.1 1 1.1 3 2.5 2 1 1 1 1 0.4 1-0.2 1 0.3 5 4.1 2-0.2 2 1.2 1 0.3 2 1.2 2 0.8 2 2.8 1 0.8 3 1 1 0 1 0.5 1 1 1 0.5 1-0.1 1 0.4 1 0.9 2 1 1 0.8 1 0.3 2-1.6 2 0.1 3-0.7 0.9-1.7 0.1-1 0-2-0.6-3-3-11-1.6-11-0.9-4-1.2-4-1.6-4-5.2-12-0.3-2 23.4 0 0 168-187 0z"/>
<path fill="#87beda" d="M307.8 17.3l110.8 0 0.6 5 1.3 5 2.3 7 3 7.2 2 2.9 2 3.2 3 2.7 2 1.4 2 3.2 1 1.1 3 2.4 1 0.3 1 0.6 1 0.9 1 0.3 1-0.2 1 0.3 5 4 2-0.3 2 1.2 1 0.2 2 1.1 2 0.6 2 2.8 1 0.7 3 0.9 1-0.1 1 0.4 1 1 1 0.5 1-0.1 1 0.4 1 0.8 2 1.1 1 0.8 1 0.3 2-1.4 2 0.3 1-0.1 2 0.5 2-1.2 2 0 0.7-1.7 0.1-2-0.7-4-3.4-13-1.7-11-0.9-4-1.2-4-1.5-4-5.2-12-0.2-2 20 0 0 168-187 0z"/>
<path fill="#a0cce2" d="M307.8 17.3l108.9 0 0.8 7 1.2 5 6.7 15 2.4 3.3 2 3.3 3 2.7 2 1.2 2 3.2 1 1.1 3 2.1 1 0.2 1 0.5 1 0.9 1 0.3 1-0.2 1 0.2 5 3.9 2-0.5 2 1.1 1 0.2 2 1 2 0.6 2 2.6 1 0.7 3 0.8 1-0.2 1 0.4 1 1 1 0.5 1-0.1 1 0.3 1 0.8 2 1.1 1 0.8 1 0.3 2-1.3 2 0.4 1-0.1 2 0.7 2-0.7 2 1 1-0.5 2-2.5 0.4-1.1 0.3-2 0-2-0.3-2-3.5-14-1.6-11-1-5-2.6-8-4.8-11-0.2-2 16.3 0 0 168-187 0z"/>
<path fill="#b6d7e8" d="M307.8 17.3l107.1 0 0.4 6 0.6 4 1.1 4 1.2 3 2.6 4 5 10.2 2 2.5 2 3.4 3 2.7 2 1.1 2 3.1 1 1 3 1.8 1 0.1 1 0.4 1 0.9 1 0.2 1-0.3 1 0.2 5 3.7 2-0.6 2 1.1 1 0.1 2 0.9 2 0.5 2 2.6 1 0.6 3 0.6 1-0.2 0.9 0.4 1.1 1 1 0.4 1-0.1 1 0.3 1 0.8 2 1 1 0.8 1 0.3 2-1.3 2 0.5 1 0 2 0.7 2-0.5 2 1.2 1-0.3 2.5-1.8 1.5-2 1-0.9 0 109.9-187 0zM483.4 17.3l11.4 0 0 47.5-2.6-10.5-1.5-12-1.2-6-2.4-8-3.5-9z"/>
<path fill="#cce2ef" d="M307.8 17.3l3.6 0 0 16 0.3 6 0.3 2 0.8 2.4 1 0.6 0.7-2 0.4-3 0.1-22 98.1 0 0.1 7 0.4 4 0.6 3 1.1 3 2.5 4.7 1 1.4 1 0.8 1 1.3 5 10 2 2.6 2 3.6 3 2.5 2 0.8 2 3 1 0.8 3 1.4 1 0 1 0.4 1 0.8 1 0.1 1-0.4 1 0.1 5 3.5 2-0.6 2 1 1 0.1 2 0.8 2 0.3 2 2.6 1 0.5 3 0.5 1-0.2 1 0.4 1 0.9 1 0.4 1-0.2 1 0.3 1 0.8 2 1 1 0.8 1 0.3 2-1.3 2 0.4 1 0 2 0.8 2-0.5 2 1.3 1-0.1 2-1 2-1.8 1-0.3 0 106.4-187 0zM490.7 17.3l4.1 0 0 15.4-4-13.4z"/>
<path fill="#dbeaf2" d="M319.2 17.3l4.2 0 0.1 20 0.5 6 0.6 3 1.2 3.1 1 1.1 2 1 1-0.3 0.7-0.9 0.9-2 0.4-2 0.2-6 0-23 79.3 0-0.1 12 0.3 3 0.6 2 2.5 5 2.2 3.2 1 1.8 1 1.2 1 0.7 1 1.2 3 6 2 4.7 2 2.6 2 3.6 1 0.9 2 1.3 2 0.5 2 2.6 1 0.6 3 0.8 1-0.1 1 0.3 1 0.7 1 0.1 1-0.6 1 0.1 3 1.8 1 0.9 1 0.5 2-0.7 2 0.9 1 0 2 0.7 2 0.2 2 2.5 1 0.5 3 0.4 1-0.3 1 0.3 1 0.9 1 0.3 1-0.2 1 0.3 1 0.7 2 1 1 0.8 1 0.3 2-1.4 2 0.4 1 0 2 0.8 2-0.4 2 1.3 1-0.1 2-0.9 2-1.5 1-0.1 0 103.9-187 0 0-134.4 1-1 1 0 1 0.6 3 1.4 1-0.3 2.7-3.3 0.5-1 0.7-3 0.3-4z"/>
<path fill="#e9f0f4" d="M336.7 17.3l72.8 0-0.1 4-0.7 9 0.1 2 0.4 3 1.6 4.9 1 1.9 1 1.5 3 5.7 1 2.4 2 6.3 1 0.8 1 3.5 0 1.7-1 0.1-1-1.1-2 1.4-4 1.2-2 1.1-1 0.9-1.2 1.7-1 2-0.8 2.5-0.5 3.5 0 3 0.4 4 0.9 3 1.2 2.5 1 1.5 2 1.9 2 1.1 2 0.4 2.4-0.4 1.8-1 1.8-1.9 1.1-2.1 0.7-2 1.6-9 1-2 0.6-0.6 1-0.4 2 1.8 3-0.3 2-0.9 1 0.6 1 1 1 0.2 1-0.4 2-0.1 1-0.4 1 0 1 0.6 1-0.1 1-0.8 1-0.1 3 1.6 1 0.9 1 0.5 2-1.1 2 0.8 1-0.1 1 0.1 1 0.5 2 0 2 2.5 1 0.4 3 0.1 1-0.4 1 0.2 1 0.9 1 0.3 1-0.3 1 0.2 1 0.7 2 0.9 1 0.8 1 0.2 2-1.5 2 0.4 1-0.1 2 0.7 2-0.4 2 1.3 1-0.1 2-0.9 2-1.4 1-0.1 0 101.3-187 0 0-130.1 1-1.1 1-0.2 4 1.3 1-0.2 2-1.6 1-0.1 1-0.7 1-1.3 1-0.9 1-0.2 1-0.1 1 0.6 2 3.1 1 0.6 2 0.8 1 0.2 3-1 0.9-1.1 2.3-4 0.4-1 0.3-2 0.2-7z"/>
<path fill="#f7f6f6" d="M341.4 17.3l66.2 0-0.2 5-0.9 5-1 4-3.2 11-1.2 3-4.4 8-1.2 3-1 4-0.5 4-0.3 4-0.2 19 0.3 6 0.8 5 1.1 4 1.7 4 2.4 3.9 2.6 3.1 3.4 2.9 3 1.8 4 1.6 5 0.8 4 0.1 9-0.4 5 0 18 1.5 4-0.1 3-0.2 4-0.7 3-0.9 3.7-1.4 3.3-1.7 3-2.1 2.4-2.2 2.3-3 1.4-3 0.5-2 0.3-2 0-5 0.4-2 0.5-1 1.2-1.6 1 0.2 1 0.5 1-0.5 2-1.5 2-1.8 1-0.2 0 95.9-187 0 0-126.6 1-1.2 1-0.3 3 0.5 1 0.4 1-0.2 1-0.8 1-0.6 1 0 1-0.4 2-1.7 2-0.6 1 0.2 2 2.6 3 1.2 1 0.2 1-0.3 2 0 1-0.8 1-1.1 1-0.5 1.2 0 2.8-0.8 1-1.1 0.8-2.1 0.4-2 0.3-3-0.1-9z"/>
<path fill="#f9ede5" d="M405.8 17.3l-0.3 5-1.2 5-1.5 4-2.3 4-1.7 2.1-4 4.1-3 3.5-9 7.7-3 3.6-1.2 2-0.6 2-0.3 3 0.2 2 2.2 6 0.9 4 0.2 3-0.3 4-1.1 4-1.3 3-1.7 3.3-4.1 6.7-1.9 4-1.1 4-0.7 5-0.3 8 0.2 65-61.1 0 0-121.3 1-1.4 1-0.6 3-0.2 1 0.2 1-0.3 1-1 1-0.6 1-0.1 1-0.4 2-1.8 2-0.9 1 0.1 2 2.2 1 0.4 3 0.8 1-0.3 2 0.2 1-0.7 1-1 1-0.3 1 0.2 2 0.1 1 0.3 1-0.3 2-2 1-0.4 1-1 1-1.9 1-3 0.5-3 0.2-3-0.2-8-1.4-15-0.2-4z"/>
<path fill="#fbe3d4" d="M404.1 17.3l-0.3 4-1 4.6-1.3 3.4-2.3 4-2.4 2.8-2 2.1-3 3.7-9 7.7-5 5.3-2 1.4-6.8 6-0.8 1-0.5 1-0.9 4.1-1 1.3-3 0.8-1 0-1 0.4-1 1.2-1 0.9-1 0-1 0.3-2 1.7-3 1.4-2-1.2-5 2-1 0.1-1-0.2-1 0.3-1 0.6-1 0-1-0.7-2-0.9-1-0.7-1-0.3-1 0.5-1 0-2-2.2-1-0.7-4-4.7-1.8-4 0.8-0.8 1 0.5 2-0.4 2 0 1-0.5 2 0 2-1.8 1-0.2 3 0.4 1 0.4 1-0.1 2-1.6 1-0.2 1-0.5 2.6-3.2 1.1-2 1.2-3 0.7-3 0.5-3 0.4-5-0.2-8-1.3-12-0.1-3z"/>
<path fill="#fcd7c2" d="M402.4 17.3l-0.2 3-0.8 4-1.4 4-1.7 3-6.5 8.2-9 8.1-2 2.4-3 3.2-2 1.5-2 1.8-7 5.1-4 2.3-2 0.9-2 1.6-2 0.9-2 1.7-3 1.6-2-1.1-5 1.4-1-0.2-1-0.7-1-0.1-1 0.3-0.8-0.9-0.9-2 0.6-1 1.1-0.5 1-1.1 1-0.8 1-0.3 1-0.6 3-3.4 3-5 1.1-3.3 1.4-7 0.6-7-0.1-7-0.9-10-0.1-3z"/>
<path fill="#f9c4a9" d="M400.7 17.3l-0.2 3-0.8 4-1.2 3-1.7 3.2-5 6.9-5 4.4-2 2.2-2 1.7-2 2.7-3 3.4-7 5.7-5 3.4-3 1.1-2 0.6-2 1.3-2 0.5-2 1.4-3 1.3-1-0.6-1-1-1-0.4-0.4-0.8 0.2-1 0.9-2 2.3-4 1-3.2 2-7.8 0.9-5 0.4-4 0.1-5-0.9-15z"/>
<path fill="#f6b191" d="M398.9 17.3l-0.3 4-1.1 4-1.4 3-3.3 5.5-1.2 1.5-2.8 2.8-2 1.7-2 2.3-2 1.7-2 2.9-3 3.8-2 1.6-3 2.8-6 4.2-3 1.1-3 0.4-2 1-2 0.1-2 0.7-1-0.1-0.7-1 0.3-3 3.5-14 0.7-4 0.5-4 0.1-7-0.6-12z"/>
<path fill="#f09c7b" d="M397.1 17.3l-0.3 3.5-0.9 3.5-3.1 6.7-1 1.5-3 3.3-2 1.8-2 2.3-2 1.8-5 7.4-2 1.7-2 2.2-4 3.1-3 1.8-2 0.6-4 0.4-2 0.4-2-0.3-0.9-0.7-0.3-1 0-1 0.2-2 3.2-12 1.1-7 0.2-7-0.4-11z"/>
<path fill="#e48066" d="M395.1 17.3l-0.3 3-0.7 3-1.3 3.9-1 2-3 3.9-2 1.9-2 2.4-1 0.7-1 1.1-5 8.2-2 1.8-2 2.5-3.1 2.6-3.9 2.2-3 0.4-4 0.1-1-0.3-0.5-0.4-0.5-1 0-2 3.3-12 1.1-7 0.3-7-0.3-10z"/>
<path fill="#da6853" d="M392.8 17.3l-0.3 3-0.7 3-1.8 4-1.2 2-2 2.2-2 2.6-1 0.7-1 1.1-5 9.2-2 2.1-2 2.8-3 2.7-3 1.7-1 0.3-3 0.2-2-0.2-0.9-0.4-0.6-1 0-2 0.5-2.2 2.6-8.8 1.3-7 0.4-6-0.2-10z"/>
<path fill="#ce4f45" d="M389.4 17.3l-0.6 3.8-1.3 3.2-1.7 3-1 1.4-1 0.8-1 1.2-5 10.4-2 2.6-2 3.5-3 3-1.9 1.1-1.1 0.4-2 0-1.3-0.4-0.7-1 0.1-2 3.2-11 1-6 0.5-6-0.1-8z"/>
<path d="M450.1 17.3l3.7 15.1 3.1 10.9 2.2 6 1.7 3.4 2 4.5 1 1.5 2.5 2.6 1.5 0.9 1 0.8 1 1.4 1 0.8 1 0.2 1 0.6 1 1.1 2 1.4 1 1.1 1 0.5 2-0.6 2 1 1 0.3 2 1.3 2 0.2 2 1.8 0.9 0.2 2.1-0.2 2-0.7 1 0.2M341.1 17.3l1.7 6.5 2 9.4 2.3 16.1 0.6 3 0.8 2 2.3 2.5 1 0.8 1-0.2 2-0.9 1-0.7 1.2-1.5 0.8-2 0.5-3 2.4-19 2.2-13M439.3 17.3l3 14 2.6 10 3.1 8 2.8 5.9 1 1.6 2 1.4 2 2.3 2 1.4 1 0.9 2 1 2 3 1 0.8 2 0.9 1 0.3 1 0.1 1 0.5 1 1.1 1 0.6 1 0 1 0.4 1 0.9 2 1.2 1 1 1 0.4 2-0.9 2 0.8 1 0.2 2 1.1 2 0.1 2 1.7 1 0.1 2-0.3 1-0.3 1-0.5 1 0.2M427.8 17.3l2 10.1 2 7.5 1 2.8 2 3.9 2 4.6 1 1.7 2.8 3.4 1.2 1 1 1 1 1.4 0.7 0.6 1.3 0.5 1 0.8 4 5.1 1 1 2 0.4 2 1.6 2 1 1 0.8 2 0.7 2 2.7 1 0.7 2 0.8 1 0.2 1-0.1 1 0.5 1 1 1 0.5 1-0.1 1 0.4 1 0.9 2 1.1 1 0.9 1 0.4 2-0.9 2 0.7 1 0.1 2 1.1 2 0.1 2 1.6 1 0.1 2-0.3 1-0.3 1-0.5 1 0.2M307.8 51.5l1-1 1-0.2 3 0.5 1 0.6 1 0.2 1-0.4 1 0.1 1 0.7 1 0.3 1-0.4 2-0.3 1-0.4 1 0.1 2 2.2 2 0.8 2 1.4 1 0.3 2 1.4 1-0.2 1-0.5 1 0.3 3 2 1 0.9 1 0.4 1-0.4 1 0 1 0.6 1 0.3 1-0.2 2 0.2 1-0.2 1 0 2 1.7 3-0.9 2-1.2 1-0.4 1-0.1 1-0.9 1-1.3 2-1.5 1.5-1.7 1.2-2 0.7-2 0.6-2 1-5 4.5-26M425.4 17.3l3.1 17 1.1 5 1.2 4.6 1 2.8 1 1.8 2 2 2 3.7 1 1.2 3 2.4 1 0.4 1 0.7 1 1.1 1 0.5 1-0.1 1 0.5 3 2.9 1 1.3 1 0.8 2 0 2 1.5 1 0.3 2 1.1 2 0.6 2 2.6 1 0.7 2.1 0.6 0.9 0.1 1-0.1 1 0.4 1 1 1 0.5 1-0.1 1 0.4 1 0.8 2 1.1 1 0.8 1 0.4 2-1 2 0.7 1 0.1 2 1.1 2 0 2 1.6 1 0.2 2-0.4 2-0.8 1 0.2M307.8 56.1l1-1 1-0.3 1 0.3 2 0.2 1 0.5 1 0.2 1-0.4 1 0 1 0.7 1 0.2 4-1.2 1-0.1 2 2.1 2 0.6 2 1.2 1 0.2 2 1.2 1-0.2 1-0.6 1 0.2 3 1.8 1 0.8 1 0.3 1-0.4 1-0.1 1 0.5 1 0.2 1-0.3 2 0 1-0.3 1 0 2 1.5 3-0.8 2-1.2 1-0.2 1 0 1-0.7 1-1 1-0.4 1-0.1 3-0.8 1-0.8 3-5.6 4-9.4 4-13.4 2.6-12.2M422.7 17.3l1.6 9 1.5 7 1.3 5 2.9 9 1.7 4 1.1 2.2 2 1.7 2 3.3 1 1 3 2 1 0.3 1 0.6 1 0.9 1 0.4 1-0.2 1 0.3 3 2.6 1 1.1 1 0.8 2-0.2 2 1.3 1 0.3 2 1 2 0.5 2 2.5 1 0.6 3 0.6 1-0.1 1 0.4 1 0.9 1 0.4 1-0.1 1 0.4 1 0.8 2 1 1 0.9 1 0.3 2-1 2 0.7 1 0.1 2 1 2 0 2 1.6 1 0.1 2-0.3 2-0.8 1 0.1M307.8 58.5l1-1.1 1-0.3 1 0.3 2 0.2 1 0.5 1 0.2 1-0.5 1 0 1 0.7 1 0.2 2-0.7 1-0.2 1-0.5 1 0 2 2 2 0.5 1 0.7 1 0.4 1 0.2 2 1.1 1-0.2 1-0.6 1 0.1 3 1.7 1 0.8 1 0.3 1-0.5 1-0.1 1 0.5 1 0.1 1-0.3 2-0.1 1-0.3 1-0.1 2 1.6 3-0.8 2-1.2 1-0.2 1 0.1 1-0.6 1-1 1-0.3 1 0.1 2-0.2 1 0.1 1-0.6 2-3.1 1-1.2 4-6.3 2-4.4 2-3.3 5-13.9 2.4-5 2.3-6M419.9 17.3l1.4 7 1.4 6 2.1 8.3 1.5 4.7 3.5 8.6 3 4.9 1 1.1 1 0.7 2 3.1 1 1 3 1.7 1 0.1 1 0.5 1 0.9 1 0.3 1-0.3 1 0.3 3 2.3 1 1.1 1 0.7 2-0.3 2 1.2 2 0.6 1 0.5 2 0.4 2 2.5 1 0.6 3 0.5 1-0.2 1 0.3 1 1 1 0.4 1-0.2 1 0.4 1 0.7 2 1.1 1 0.8 1 0.3 2-1 2 0.6 1 0.1 2 1.1 2-0.1 2 1.6 1 0.1 2-0.3 2-0.9 1 0.2M307.8 60.4l1-1.1 1-0.3 1 0.3 2 0.1 1 0.5 1 0.1 1-0.4 1-0.1 1 0.7 1 0.2 2-0.8 1-0.2 1-0.5 1-0.1 2 2 2 0.5 1.9 1 1.1 0.2 2 1 1-0.3 1-0.6 1 0.1 1 0.7 2 1 1 0.8 1 0.2 1-0.5 1-0.1 1 0.5 1 0.1 1-0.4 2-0.1 1-0.4 1 0 2 1.6 3-0.9 2-1.2 1-0.2 1 0.2 1-0.6 1-0.9 1-0.2 1 0.2 2 0 1 0.2 1-0.5 2-2.8 1-0.8 1-1.2 1-1.5 2-2.3 2-3.6 2-2.3 5-10.9 1-1.4 1.1-1.1 1.9-2.6 2-2.2 0.8-1.2 1.5-3 0.7-1.8 1.6-6.2M415.3 17.3l1.1 5 1.5 5 0.8 2 2.1 4.4 5 13.7 2 3.9 2 4.4 3 4 1 1 1 0.8 2 3 1 0.9 3 1.5 1 0.1 1 0.4 1 0.8 1 0.3 1-0.4 1 0.2 3 2.2 1 1 1 0.7 2-0.4 2 1.1 1 0.1 1 0.3 1 0.6 2 0.3 2 2.4 1 0.5 3 0.5 1-0.3 1 0.4 1 0.9 1 0.4 1-0.2 1 0.3 1 0.8 2 1 1 0.8 1 0.3 2-1.1 2 0.7 1 0.1 2 0.9 2 0 2 1.6 1 0.1 2-0.4 2-0.8 1 0.2M307.8 62.1l1-1 1-0.4 1 0.3 2 0.1 1 0.4 1 0.1 1-0.4 1-0.1 1 0.6 1 0.2 2-0.8 1-0.2 1-0.5 1-0.2 2 1.9 2 0.5 2 1 1 0.1 2 1 1-0.3 1-0.7 1 0.1 3 1.7 1 0.7 1 0.3 1-0.6 1-0.1 1 0.4 1 0.1 1-0.3 2-0.2 1-0.4 1 0 2 1.5 1-0.2 1-0.4 1-0.2 2-1.2 1-0.2 1 0.1 1-0.5 1-0.8 1-0.2 1 0.3 2 0.1 1 0.3 1-0.5 2-2.4 1.1-0.8 3.9-4 2-3.1 2-1.6 5-9.4 1-1.2 1-0.6 2-2.4 2-1.3 2-1.7 1-0.7 1-1.4 3-5.6 0.9-2 0.9-3 1-5M307.8 64.1l1-1.1 1-0.4 1 0.2 2 0.1 1 0.4 1 0 1-0.5 1-0.1 1 0.6 1 0.1 4-1.6 1-0.2 2 1.9 2 0.4 2 0.9 1 0.1 2 0.9 1-0.3 1-0.7 1 0.1 3 1.6 1 0.7 1 0.2 1-0.5 1-0.2 1 0.4 1 0.2 1-0.4 2-0.2 1-0.4 1-0.1 2 1.6 1-0.2 1-0.5 1-0.2 2-1.2 1-0.1 1 0.1 1-0.5 1-0.8 1-0.2 1 0.4 2 0.2 1 0.3 1-0.4 2-2.2 1-0.4 1-0.8 1-1.1 2-1.6 2-2.6 2-1.2 3-4.8 2-3.6 1-1 1-0.5 2-2.3 1-0.6 1-0.5 2-1.3 1-0.4 1-1.1 1-1.6 1-1.3 3-1.4 2-0.4 2-1.3 2 0.8 3-1.3 2-1.3 1 0.3 1 0.8 2 0.4 3 2.5 1 1.1 1 1.4 1 0.9 1 0.7 1 1.3 3 6.3 2 4.9 2 3.4 2 4.1 3 3.5 2 1.6 2 3 1 0.8 3 1.3 1 0.1 1 0.4 1 0.7 1 0.2 1-0.4 1 0.1 3 2.1 1 1 1 0.6 2-0.5 2 1 1 0.1 1 0.3 1 0.5 2 0.3 2 2.3 1 0.5 3 0.4 1-0.3 1 0.3 1 0.9 1 0.4 1-0.2 1 0.3 1 0.7 2 1 1 0.8 1 0.3 2-1.1 2 0.6 1 0.1 2 1 2-0.1 2 1.5 1 0.1 2-0.3 2-0.9 1 0.2M307.8 66.9l1-1.2 1-0.5 1 0.1 2-0.2 1 0.3 1 0 1-0.6 1-0.2 1 0.5 1 0.1 1.7-0.9 1.3-0.4 1-0.5 1-0.2 2 1.8 2 0.3 2 0.8 1 0 2 0.9 1-0.3 1-0.7 1 0 3 1.5 1 0.8 1 0.2 1-0.6 1-0.2 1 0.4 1 0.1 1-0.3 2-0.3 1-0.4 1-0.1 2 1.6 3-0.9 2-1.2 1-0.2 1 0.2 1-0.5 1-0.9 1-0.1 1 0.4 2 0.3 1 0.3 1-0.3 2-2.1 1-0.4 1-0.6 1-0.9 2-1.3 2-2.3 2-0.6 3-4.1 2-3.2 1-0.9 1-0.4 2-2.3 4-2.5 1-0.4 1-1 1-1.7 1-1.2 3-1.1 2-0.1 2-0.9 2 0.8 2-0.9 3-0.9 1 0.7 1 1 1 0.5 1 0.1 3 1.6 1 0.9 1 1.2 1 0.8 1 0.3 1 1 3 5.8 2 4.5 2 3.1 2 3.9 3 3.2 2 1.5 2 3 1 0.7 3 1.1 1-0.1 1 0.4 1 0.7 1 0.1 1-0.4 1 0.1 3 1.9 1 1 1 0.5 2-0.5 2 0.9 1 0.1 2 0.7 2 0.2 2 2.3 1 0.4 3 0.3 1-0.3 1 0.3 1 0.8 1 0.4 1-0.2 1 0.2 1 0.8 2 0.9 1 0.8 1 0.3 2-1.1 2 0.5 1 0.1 2 1 2-0.1 2 1.5 1 0.1 2-0.3 2-0.9 1 0.2M307.8 102l3.4-30.7 0.4-1 1.2-0.9 2-0.6 1-1 1-0.4 1 0.3 1-0.1 2-1.2 1-0.3 1-0.7 1-0.2 2 1.6 2 0.2 2 0.7 1 0 2 0.7 1-0.3 1-0.8 1 0.1 1 0.5 2 0.9 1 0.7 1 0.2 1-0.6 1-0.2 1 0.4 1 0 1-0.3 2-0.3 1-0.4 1-0.1 2 1.5 3-0.9 2-1.2 1-0.2 1 0.2 1-0.6 1-0.8 1-0.1 1 0.4 2 0.3 1 0.4 1-0.4 1-1.1 1-0.9 1-0.2 1-0.5 1-0.9 2-1.1 2-2 2-0.4 3-3.7 2-3 1-0.7 1-0.3 2-2.1 1-0.6 1-0.3 2-1.2 1-0.4 1-1.1 1-1.7 1-1.3 3-1.3 2-0.1 2-1.1 2 0.8 2-0.9 3-0.6 1 0.8 1 1.2 1 0.6 1 0.2 3 2 1 0.9 1 1.3 1 0.8 1 0.3 1 0.9 3 5.5 2 4.4 2 2.9 2 3.9 3 3 2 1.3 2 2.8 1 0.7 3 0.8 1-0.1 1 0.3 1 0.6 1 0.1 1-0.4 1 0 3 1.8 1 0.9 1 0.5 2-0.6 2 0.8 1 0.1 2 0.6 2 0.2 2 2.1 1 0.5 3 0.1 1-0.3 1 0.3 1 0.8 1 0.3 1-0.2 1 0.2 1 0.7 2 0.9 1 0.8 1 0.3 2-1.2 2 0.6 1 0.1 2 0.9 2-0.1 2 1.5 1 0.1 1-0.3 1-0.1 1-0.3 1-0.6 1 0.2M312.6 185.3l1.2-13.1 1.2-14.9 5.7-86 2.1-2 1-0.5 2 1.2 2-0.2 2 0.4 1-0.2 2 0.6 1-0.5 1-0.8 1 0 1 0.5 2 0.7 1 0.7 1 0.1 1-0.6 1-0.3 1 0.4 1 0.1 1-0.5 2-0.3 1-0.4 1-0.2 2 1.5 1-0.2 1-0.5 1-0.3 2-1.2 1-0.1 1 0.1 2-1.3 1-0.1 1 0.3 2 0.3 1 0.4 1-0.3 1-1.1 1-0.8 1-0.1 1-0.4 1-0.8 2-0.8 2-1.8 2-0.1 3-3.3 2-2.8 1-0.7 1-0.3 2-2 5-2.5 1-1.1 1-1.7 1-1.3 3-1.4 2-0.2 2-1.1 2 0.6 2-0.9 3-0.4 1 0.9 1 1.3 1 0.7 1 0.4 3 2.6 1 1 1 1.5 1 0.8 1 0.3 1 0.9 3 5.5 2 4.5 2 2.7 2 3.9 3 2.9 2 0.9 2 2.8 1 0.6 1 0 2 0.5 1-0.2 1 0.2 1 0.6 1 0.1 1-0.5 1 0 3 1.6 1 0.9 1 0.5 2-0.8 2 0.8 1 0 1 0.1 1 0.4 2 0.1 2 2.1 1 0.4 3 0 1-0.3 1 0.2 1 0.8 1 0.3 1-0.3 1 0.2 1 0.7 2 0.9 1 0.7 1 0.3 2-1.2 2 0.5 1 0.1 2 0.9 2-0.2 2 1.5 1 0.1 2-0.3 2-0.9 1 0.2M328.3 185.3l13.1-110 0.4-1.1 1-0.4 2-0.1 1-0.6 2-0.5 1-0.5 1-0.2 2 1.3 1-0.2 1-0.6 1-0.3 2-1.3 1-0.2 1 0.2 1-0.6 1-0.8 1-0.1 1 0.4 2 0.3 1 0.3 1-0.2 1-1.1 1-0.7 1 0 1-0.2 1-0.6 2-0.6 1-0.7 1-0.6 2 0.3 3-2.8 2-2.6 1-0.6 1-0.3 2-2.1 5-2.6 1-1.1 1-1.8 1-1.4 3-1.6 2-0.3 2-1.2 2 0.5 2-0.9 2-0.3 1 0 1 1 1 1.5 1 0.8 1 0.6 3.1 3.6 1.9 2.9 1 1 1 0.4 1 1 3 5.8 2 4.6 2 2.8 2 3.8 3 2.8 2 0.7 2 2.4 1 0.5 1-0.1 2 0.2 1-0.2 1 0.1 1 0.6 1-0.1 1-0.5 1-0.1 3 1.5 1 0.8 1 0.5 2-0.9 2 0.7 1-0.1 1 0.1 1 0.3 2 0 2 2 1 0.3 3 0 1-0.4 1 0.2 1 0.7 1 0.3 1-0.3 1 0.2 1 0.6 2 0.8 1 0.8 1 0.2 2-1.2 2 0.6 1 0 2 0.9 2-0.3 2 1.8 1 0 2-0.4 2-0.8 1 0.3M368.1 185.3l4.2-25 5.1-26 6.4-31.1 2-8.1 2.4-8.8 1.6-7.2 0.7-1.8 0.3-1.1 0.5-0.9 0.5-1.3 2-3.9 0.6-0.8 0.4-1 1.5-2 0.5-1 2.6-3 4.4-4 2-0.2 1 0.1 2 1 5 5.1 0.4 1 1.6 2 0.2 1 0.8 0.9 0.2 1.1 0.8 0.9 0.1 1.1 1.4 3 0.5 0.7 2 1.9 1 0.4 2 1.9 0.1 1.1 2.9 3 0.1 1 0.9 1 0.2 1 0.8 0.9 0.5 0.1 0.5 0.4 1.1 0.6 0.9 0.8 1 0 1-0.8 2 1.9 1 0 1-0.9 2 0 1-1 1 0.8 1.1 0.2 0.9 0.9 1 0.1 1 0.9 1 0.6 1.1 0.5 0.9 0.7 1 0.3 1 0.9 2.2 1.1 0.8 0.6 1 0.4 1 0.8 4 2.2 10 6.6 6 3.1 3 1.3 3 1 4 0.9 6 1 2 0.1M421.5 185.3l2.6-6 2.9-6 3.1-6 3.4-6 7.9-13 7.4-10.6 3-5.3 1-1.1 1-0.2 1 0.2 4 1.4 1 0.2 13 0 2-0.5 2-0.8 4-1.9 5-2.9 5-1.5 2-0.4 2-0.1" fill="none" stroke="#3a3a3a" stroke-width="0.42" stroke-opacity="0.75" stroke-linejoin="round"/>
<path d="M309.1 183.1l0-104.1 0.2 0 7.1 2.7 5.7 1.6 15.6 3.3 19.9 5 25.5 5.2 5.7 1.3 4.3 1.3 5.7 2.3 2.8 0.9 5 1 12 1.9 3.6 1.2 3.5 1.7 1.5 0.9 2.1 1.8 7.8 8.4 5.7 7 9.2 12.9 1.4 1.7 1.5 1.2 2.1 1.5 1.4 0.9 2.1 0.8 2.9 0.2 8.5 0.4 1.4 0.2 2.1 0.5 1.5 0.6 0.7 0.4 1.4 1.2 1.4 1.5 1.4 2.1 2.2 4.1 1.4 3.1 2.1 5 1.4 3.8 1.5 4.3 2.8 10 0.2 0 0 0.2z" fill="#808080"/>
</g>
<g clip-path="url(#cc)">
<rect x="35.1" y="227.7" width="189.7" height="158.6" fill="#003c30"/>
<path fill="#003c30" d="M34.6 227.2l191 0 0 160-191 0zM60.6 240l-0.4 3.2 0 8 0.4 3.3 0.3-3.3 0-8z"/>
<path fill="#004c42" d="M34.6 227.2l191 0 0 160-191 0zM60.6 238.3l-0.7 3.9-0.2 5 0.2 5 0.7 3.9 0.6-3.9 0.1-5-0.1-5z"/>
<path fill="#015d54" d="M34.6 227.2l191 0 0 160-191 0zM60.6 237.1l-0.7 2.1-0.3 2-0.1 6 0.1 6.1 0.3 1.9 0.7 2.1 0.6-2.1 0.2-2 0.2-6-0.2-6z"/>
<path fill="#0a6f67" d="M34.6 227.2l191 0 0 160-191 0zM60.6 236l-1 2.8-0.3 8.4 0.3 8.4 1 2.7 0.7-2.1 0.3-1.7 0.2-7.3-0.2-7.2-0.3-1.8z"/>
<path fill="#1f827a" d="M34.6 227.2l191 0 0 160-191 0zM60.6 235l-1 2.2-0.4 5 0 10 0.4 5 1 2 1-3 0.3-4 0-10-0.3-4z"/>
<path fill="#35978f" d="M34.6 227.2l191 0 0 160-191 0zM60.6 234l-1 1.9-0.2 1.3-0.4 4 0 6 0.3 9 0.3 2.2 1 1.7 0.9-1.9 0.3-2 0.3-9-0.3-9-0.3-2zM152.6 237.3l-0.4 4.9 0.4 4.3 1-1.1 0.2-3.2-0.2-3.8z"/>
<path fill="#52aca3" d="M34.6 227.2l191 0 0 160-191 0zM60.6 233.1l-1 1.5-0.4 2.6-0.3 4 0 12 0.3 4 0.4 2.3 1 1.4 1-1.9 0.3-1.8 0.3-4 0-12-0.3-4-0.3-2.1zM127.6 279.1l-0.2 5.1 0.2 5.7 0.4-5.7zM152.6 234.1l-0.8 4.1-0.2 4 0.2 4 0.8 3.6 1-0.8 0.8-3.8 0.1-3-0.2-4-0.7-3.4z"/>
<path fill="#70c1b6" d="M34.6 227.2l191 0 0 160-191 0zM60.6 232.1l-1 1.4-0.6 2.7-0.3 4-0.1 7 0.1 7 0.4 4 0.5 2.3 1 1.2 1-1.6 0.6-2.9 0.2-4 0-13-0.3-4-0.5-2.4zM127.6 271.7l-0.7 4.5-0.2 5 0.2 7 0.7 8.7 1-3.3 0.1-10.4-0.1-7.9zM147.6 273.8l-1.1 3.4-0.1 3 0.2 3 1-2 0.3-4zM152.6 231.6l-1 3.5-0.4 7.1 0.4 7 1 3.2 1-0.7 0.8-2.5 0.5-3 0.2-4-0.2-4-0.4-3-0.9-3z"/>
<path fill="#8dd2c7" d="M34.6 227.2l191 0 0 160-191 0zM41.6 235.9l-0.6 1.3-0.4 1.9 0 8.1 0.6 2 0.4 0.9 0.3-2.9 0-8zM60.6 231.1l-1 1.2-0.7 2.9-0.4 5-0.1 7 0.1 6 0.3 5 0.8 3.3 1 1 1-1.3 0.7-3 0.3-4 0.1-7-0.1-7-0.3-4-0.7-3.6zM114.6 277.4l-0.6 3.8-0.2 4 0.2 5 0.6 5.2 1-2.4 0.3-6.8-0.3-7.1zM127.6 266.2l-0.8 2-0.9 4-0.3 6 0.4 8 1.6 15.7 1-1.4 0.4-19.3-0.4-12.2zM147.6 269.8l-1 2.9-1 7.5 0 4.1 0.5 1.9 0.5 0.8 1-1.8 0.6-4 0.4-3.8-0.1-4.2-0.4-2zM152.6 229.3l-1 2.7-0.6 5.2-0.2 5 0.2 5 0.6 5.4 1 2.3 1-0.8 1-2.5 0.7-4.4 0.2-5-0.2-5-0.7-4.7-1-2.7z"/>
<path fill="#abdfd7" d="M34.6 227.2l117.8 0-0.8 2-0.5 3-0.6 6-0.1 4 0.2 5 0.5 6 0.5 2.8 1 1.5 1.1-1.3 0.9-1.7 0.4-1.3 0.7-4 0.3-6-0.1-5-0.5-5-0.8-3.6-1-2.2-0.4-0.2 72.4 0 0 160-191 0zM41.6 233.6l-1 1.6-0.3 3-0.1 5 0.1 5 0.3 2.9 1 1.3 0.6-4.2 0.1-6-0.1-5zM60.6 230.1l-1 1-0.8 3.1-0.5 5-0.2 8 0.1 7 0.5 5 0.4 2 0.5 1.3 1 0.8 1-1.1 0.8-3 0.5-5 0.1-7-0.1-7-0.6-6-0.7-2.9zM114.6 272.7l-1 3.9-0.3 7.6 0.3 9.9 1 6.5 1-1.7 0.7-7.7 0.2-6-0.2-6-0.7-5.9zM120.6 273l-0.6 5.2-0.2 4 0.2 4 0.6 2.7 0.2-7.7zM127.6 260.7l-2 3-0.8 6.5-0.2 7 0 4.1 0.3 4.9 1.7 11.6 1 8.7 1-0.3 0.4-10 0.2-17-0.2-9-0.4-7zM147.6 266.4l-1 3.2-1.3 7.6-0.5 5 0 3 0.3 2 0.5 1.8 1 0.8 1-1.8 1.2-6.8 0.4-5-0.1-4-0.5-4.1z"/>
<path fill="#c7eae5" d="M34.6 227.2l116.8 0-1.3 9-0.2 5 0.1 5 0.3 5 0.9 7 0.4 2.1 1 0.2 2-3.2 0.7-2.1 0.6-3 0.4-4 0.2-7-0.3-6-0.6-4.9-0.8-3.1 70.8 0 0 160-191 0zM41.6 231.7l-1 0.9-0.3 1.6-0.4 4 0 10 0.3 3 0.4 2.2 1 0.8 0.6-2 0.3-2 0.2-8-0.3-7zM60.6 228.8l-1 0.9-1.2 4.5-0.4 5-0.1 8 0.1 8 0.3 4 0.7 3 0.6 1.4 1 0.7 1-1 0.5-1.1 0.6-3 0.4-4 0.1-8-0.1-7-0.3-5-0.5-3-0.6-2zM114.6 268.1l-1 3.2-0.5 2.9-0.4 7 0.5 15 0.4 3.7 1 6 1-1.7 1.4-12 0.2-7-0.2-7-0.6-6-0.8-4.1zM120.6 262.3l-1 4.4-0.6 9.5-0.1 8 0.2 7 0.5 5.5 1 1.1 0.7-7.6 0.2-10-0.2-10zM127.6 254.3l-2 2-1 5-0.5 8.9-0.1 12 0.6 11.4 1 3.9 1 5.8 1 8 1 0.3 0.5-12.4 0.4-19-0.1-9-0.3-8-0.5-6.9zM133.6 239.5l-0.4 1.7-0.1 2 0.5 4 0.6-2 0.2-2-0.2-2zM147.6 262.6l-1 3.8-2.3 13.8-0.4 4 0.1 3 0.5 3 1.1 1.9 1 0.4 1-1.7 1-4.7 0.7-4.9 0.6-7-0.1-4-0.6-4-0.6-2.3zM220.6 246.2l-0.1 5 0.1 9 1 0.8 0.2-7.8-0.2-5.8z"/>
<path fill="#d9eeeb" d="M34.6 227.2l116.1 0-0.7 4-0.4 4.2-0.8 2.8-0.2 3 0.3 6 0.7 3.6 0.3 6.4-0.1 3-0.2 0.9-2-6.9-0.3 4-1.4 9-2.1 11-0.6 5-0.1 5 0.5 4.4 1 1.6 1 0.9 1 0.5 1-1.6 1.2-5.8 1.4-9 1.1-10 0.6-3 1.6-4 1.2-2 0.9-2 0.7-4 0.6-7 0.1-7-0.3-7-0.9-6 69.8 0 0 160-191 0zM41.6 229.8l-1 0.7-0.7 2.7-0.4 5 0 10 0.5 5 0.6 2.2 1 0.6 0.7-1.8 0.5-3 0.2-9-0.2-8-0.3-2zM60.6 227.4l-1 0.7-0.5 1.1-1 4-0.4 5 0 17 0.4 5 0.4 2 0.7 2 0.4 0.7 1 0.6 1-0.8 0.7-1.5 0.7-3 0.4-5 0.1-8-0.1-9-0.5-5-0.9-4-0.4-0.9zM69.6 240.8l-0.5 1.4-0.4 2-0.2 5 0.2 4 0.4 2 0.5 1.2 1-1.5 0.3-4.7-0.3-7.7zM100.6 235.9l-0.3 3.3 0.1 5 0.2 1.5 1 0.6 0.2-4.1-0.2-6.3zM113.6 233l-0.3 1.2-0.1 1 0.4 2.4 0.2-0.4 0.4-2-0.1-1zM120.6 253l-1 3.5-1 13.6-1 4-0.7-5.9-1.3-6.1-1 0.7-1 3.2-0.7 3.2-0.6 4-0.2 5 0.6 18 0.6 7 1.3 9.5 1-2.1 2-16.2 1 2.5 1 7.5 1 0.4 0.9-6.6 0.6-10 0.1-16-0.3-8zM128.6 244.6l-1 0.7-1 1.7-1 1.3-1 4.9-1.3 15-0.2 8 0.3 11 0.5 8 0.7 6 1 2.4 1 5.5 1 8.1 1 0.7 0.6-11.7 0.6-34-0.1-9-0.7-16zM133.6 234.1l-1 2.2-0.7 3.9-0.1 3 0.5 6 1.3 5 1-2.5 1-5.5 0.3-3-0.2-3-0.5-3-0.6-2.2zM147.6 236.8l0 8.5 0.6-3.1zM174.6 234.8l-0.5 2.4-0.3 3-0.2 8 0.2 7 0.3 2 0.5 1.6 1-4.6 0.2-7-0.2-6.1zM178.6 240.9l-0.2 6.3 0.2 8.3 0.7-1.3 0.2-3-0.3-7zM195.6 344.7l-0.8 0.5-0.2 1 1 0.7 0.2-0.7zM201.6 236.2l-0.5 8-0.2 13 0.2 6 0.5 4.7 0.7-7.7 0.2-7-0.1-8zM220.6 235.9l-0.7 3.3-0.4 4-0.1 7 0 12 0.2 3.6 0.5 3.4 0.5 1.8 1 0.1 1-2.2 0.5-3.7 0.2-6 0-11-0.3-5-0.4-3-1-3.3zM133.6 271.3l-0.1 5.9 0.1 5.8 0.3-5.8z"/>
<path fill="#ebf3f2" d="M34.6 227.2l24.3 0-0.9 3-0.8 7-0.1 7 0.1 12 0.9 8 0.7 2 0.6 1 1.2 0.8 1-0.8 0.7-1 0.7-2 0.4-2 0.6-7 0.1-10-0.2-7-0.6-7-1.1-4 31.4 0-1 2.8-0.7 4.2-0.2 4 0 10 0.4 4 0.5 2.2 1 1.7 1-4.2 0.2-3.7 0.1-6-0.3-9.9-1-5.1 52.9 0 0 25-0.3 7-0.6 6-1 5.5-1.3 4.5-0.6 3-0.4 5-0.1 5 0.1 5 0.4 3 0.9 1.5 1 0.2 2 2 1-1.6 3.8-20.1 1.2-8 1-4.4 2-3 1.2-6.6 0.6-6 0.4-9-0.4-9-0.5-5 17.6 0-0.9 1.5-0.6 8.5-0.1 15 0.4 7 0.3 1.8 1 1.1 1.6-3.9 0.4-1.7 1 1.9 1 3.9 1 2.1 1-1.3 0.4-3.9-0.4-22-0.3-5-0.6-5 20.8 0-0.3 38 0.4 6.9 1 2 1.1-5.9 0.9-8 1 1.7 1 4.6 1-2 0.3-4.3 0.2-6-0.1-11-0.4-6.5-1-1.3-1 4.7-1 1.7-1.1-9.6-0.4-5 23.5 0 0 160-109.9 0-0.1-35-0.4-21 0.7-13 0.7-8.4 1-6.4 1 3.3 1 6.4 1 0 1.5-8.9 0.5-5.2 1.7 9.2 0.3 1.2 1 1.5 1 6.1 1 10.7 1 2.2 0.8-18.7 0.8-54 0.4-6.8 1 1.3 0.9 7.5 0.2 16 0.8 18 0.1 23.1 0.6-4.1 0.3-7-0.6-9 0.2-3 0.5-3.8 0.4-8.2-0.1-21 0.7-6.1 1-3.5 0.6-1.4 0.8-3 0.2-4-0.2-3-0.6-2-0.8-1.7-2-6.1-1-0.7-1 2.4-1 3.7-1 2.7-1-1.6-1-2.6-1 0.1-1 0.6-1 1.3-2 18.7-1 5.3-1.4-12.1-0.6-8-1 4-1 14.1-1 5.4-2-11.2-1 2.4-2.4 11.3-0.5 3-0.4 6 0.7 12 0.1 12 1.8 18 0.4 10 0 61-18.5 0-0.2-5.7-0.7 5.7-60.3 0zM41.6 227.5l-1 0.4-0.6 1.3-0.6 3-0.4 4-0.1 7 0.1 7 0.4 4 0.4 2 0.8 1.8 1 0.5 1-2 0.5-3.3 0.3-12-0.1-6-0.3-4-0.5-2zM69.6 235.5l-1 0.9-1 2.8-0.4 4-0.1 10 0.4 4 1.1 3.5 1 0.9 1-0.4 1-2.3 0.3-2.7 0.1-12-0.4-4.8-1-3.3zM101.6 230.1l-1 0.4-1.2 2.7-0.4 2-0.2 4 0.1 5 0.4 3 1.3 3.9 1 1 0.6-1.9 0.4-2.6 0.2-7.4-0.2-6.2-0.3-1.8zM106.6 256l-0.8 17.2-0.3 26 0.3 16 0.8 24.5 1.1-34.5-0.1-4.4-0.8-11.6 0-6 0.5-12zM114.6 228.2l-2 1.2-0.4 0.8-0.6 2-0.2 3 0.1 3 0.4 2 0.7 1.1 1 0.7 1 0.4 1-1.1 0.4-3.1-0.1-6-0.3-3zM196.6 343.2l-1-1.3-1 0.3-1 0.6-2-0.3-2 2.2-1-1.4-1-0.6-0.4 1.5-0.1 2 0.5 2.5 1-0.4 1-1.2 2 2.2 2-0.5 1 0.7 1 0.4 1.1-1.7 0.6-2 0-1zM200.6 342.4l-1.2 1.8-0.3 1 0 1 0.5 1.4 1 1.6 1-0.6 0.6-1.4 0.2-1-0.1-1-0.6-2zM220.6 227.9l-1 3.6-0.7 8.7-0.3 10 0 13 0.3 6 0.7 5 1 1.6 1 0 1-0.6 0.5-1 0.5-1.6 0.4-3.4 0.3-9 0-16-0.2-6-0.5-4.1zM149.3 227.2l0.4 0-0.1 0.9zM179.5 227.2l-0.9 2.8-1 5.8-1 1.8-1.3-6.4-0.7-4z"/>
<path fill="#f5f2ea" d="M44.1 227.2l11.7 0 0.1 21-0.3 8.3-0.2 0.7-0.7 1-1.1 0.9-1 0.3-2-0.1-2 0.7-2-0.1-1-0.3-1-0.9-0.6-1.5-0.2-4zM72.2 227.2l16.2 0 0.2 2 0-2 2.6 0-0.6 2.9-0.9 1.1-0.5 1-0.1 1 0.3 18 0.5 4 0.7 1.4 0.7 4.6-0.2 1-0.5 1.1-1-2.4-1-1.6-0.5 0.9-1.7 2-3.8 2.3-2 0.6-1 0.1-2-0.9-2-0.5-1-0.8-0.4-0.8-0.6-2.2-0.5-5.8-0.3-15zM98 227.2l-0.9 4-0.5 4.7-1-8.7zM103.2 227.2l2.2 0 0.2 1 1 1.7 1-1.1 0.3-1.6 3.3 0-0.9 4-0.2 7 0.3 3 1.1 4 0.3 2-1.5 16-0.3 6 0.1 3 1.2 9 0.3 5 0.1 5-0.5 11 1.4 9 0.5 11 0.2 65-3.5 0-0.2-15.5-0.6-16.5-0.4-19.5 0-30.5-1.2-17 0.1-5 0.9-10 0.2-5-0.2-16-0.1-2-0.7-2.4-1-0.9-0.8 1.3-0.6 2-0.3 4-0.3 88.4-1 14.4-0.4-34.8-0.2-66 0.6-9 0.1-10-0.2-6zM118.9 227.2l-0.3 12.1-1 8-0.3-4.1-0.1-10-0.3-6zM124.4 227.2l-0.3 9-0.5 7.5-1 4.5-0.9-10-0.4-11zM131.7 227.2l-0.1 0.3-1 1.1-0.3-1.4zM141.2 227.2l4.6 0-0.2 30.2-1 8.4-1 1.7-0.7-1.3-0.7-5-0.3-20zM161.9 227.2l6.3 0 0.2 1 0.6 5-0.1 8-0.8 5-0.5 1.7-1.3 2.3-0.2 2 0.5 3.5 1 2.8 1 4 1-0.4 1.1-5.9 0.3-3 0.2-8-0.4-18 1.7 0-0.6 7-0.2 8 0.1 11 0.4 5 1.4 6.7 1 0.3 1-3 1-1.8 1 1.6 2 7.6 1 0.1 1-0.5 1-2.9 0.1-2.1-0.6-12-0.2-10 0-8 0.3-7 9.5 0 0.3 1 0.6 1.3 0.8-2.3 6.3 0 0 41 0.3 5 0.6 3.7 1 0.8 1.4-5.5 0.6-3.4 1 0.8 1 3.9 1 0.5 1.5-7.8 0.4-6 0.2-13-0.3-11-0.7-9 5.2 0 0.6 3 1.1 3.4 1-2.2 0.2-4.2 3 0-1 13-0.2 16 0.2 13 0.3 4 0.5 2.7 1 2.9 1 0.5 2-0.2 1-0.7 0.6-1.2 0.7-3 0.4-3 0.3-14.1 0 130.1-2.4 0-0.6-8.1-0.6 8.1-7.3 0 0.7-40-0.1-39-0.7-8.2-1 3.2-0.3 5-0.1 38 0.4 30.2 0.7 10.8-12.3 0-0.4-18.1-1-4.8-0.2 22.9-4.8 0 0-5.9-0.1 5.9-25.5 0-0.3-45-0.2-6-0.9-8-0.7 10-0.3 10-0.1 39-5.9 0 0.3-27-0.1-23-0.4-15-0.8-10.3-1 5-0.4 10.3-0.2 24 0.1 36-2.8 0 0-51-0.3-10-0.4-6.3-0.9 6.3-0.3 7-0.1 18-0.1 36-3.3 0-0.3-37.1-2.3-37.9-0.1-5 0.1-4 1.3-11.2 1-4.6 1.4-5.2 1.6-9.5 1-1.4 1-0.1 2-13.2 0.5-0.8 0.5-1.4 1 14.8 0.6 2.6 0.2 2-0.4 8 0.6 6.6 0.2-4.6-0.1-12 0.9-12.5 0.4-10.5-0.2-13zM182.6 338.9l-1 0.7-0.7 4.6-0.1 2 0.8 6.7 1 0.1 0.8-6.8zM187.6 262.8l-0.2 3.4 0.2 2.3 0.7-2.3 0.2-2-0.3-1zM192.6 262l-0.5 1.2-0.1 1 0.2 2 0.4 2.2 0.3-0.2 0.7-1 0-1zM214.6 265.4l-1 3.4-0.3 4.4 0.3 4.2 1 3.1 0.8-3.3 0.2-5-0.3-4zM187.6 337.9l-1.2 5.3-0.2 3 0.3 3 1.1 4.7 2-3.1 1 0.8 1 1.1 1-0.8 1-0.4 2 2.2 0.4-1.5 1.6-3.2 1-0.1 1.5 3.3 0.5 2.6 1-0.8 1-3 1-1.6 1.1-1.2 0.6-1 0.2-1 0-1-0.4-1-0.7-1-0.8-0.8-1.3-2.2-0.7-1.6-1-0.2-0.7 1.8-1.3 2.3-1-0.1-2-3.1-2 1.1-2-0.5-1 1.1-1 0.5-1.5-2.3zM177.8 227.2l-0.2 1.5-1 2.4-0.8-3.9zM205.1 227.2l-0.5 3.7-1 1-0.4-4.7zM225.5 227.2l0.1 0 0 9.5zM96.6 250.4l0.2 0.8 0.6 1 1.2 0.7 1 0.9 0.6 3.4-0.5 10-0.1 30.1-0.5-5.1-0.2-5 0.2-19-0.8-4-0.7-2.2-1-0.4-0.4-1.4-0.1-3zM131.6 261.2l1.5 32-0.3 22 0.8 72-4 0 0.2-95 0.8-26.3zM140.6 267.6l0.6 4.6 0.2 7-0.4 21-0.4 5.1-0.7 3.9-0.1 4 0.2 25 0.1 49-2 0 0.4-50 1-24-0.1-7-0.7-13 0-8 0.2-6 0.7-7.4zM135.6 288.9l0.6 1.3 0.2 3-0.2 4-0.6 3.6-0.1-5.6zM144.6 303.1l0.5 1.1 0.6 2 0.4 5-0.2 76-3.3 0-0.1-74 0.3-5 0.4-3 0.4-1.2zM117.6 315l1 8.2 0.4 8 0.6 54.7 1-24.9 0.6-29.8 0.4-6.1 1-5.7 1 5.5 1 3.3 1 0.7 0.4 16.3 0.3 42-2.7 0 0-2-0.2 2-6.8 0 0-55.3 0.3-8.7zM98.6 374.8l0.7 12.4-1.1 0z"/>
<path fill="#f6edd7" d="M122.9 227.2l-0.3 4.1-0.1-4.1zM144.4 227.2l0.3 0-0.1 12.1zM164.6 227.5l2 2.2 0.6 1.5 0.4 2 0.1 4-0.1 3-0.8 3-0.2 0.5-1 0.8-1 0.4-0.7-0.7-0.4-1-0.3-3-0.1-5 0.1-4 0.4-3.1zM185.6 227.7l1.3 4.5 0.6 6-0.1 14-1.2 13 0.2 4 1.2 8.7 2-7.6 1-0.6 2 4.4 1 0.3 1-0.2 1 0.5 1-0.4 1-4.1 1-3.1 0.4 5.1 1.6 8.6 1 0.6 2-7.5 1 1 1 3.6 1 1.3 1-1.4 1-0.4 1 0.1 2-3.1 1 2.7 2 9.6 2-8.7 1-0.3 1 2.4 1 1.4 2-0.3 1 0.3 1 0 1-0.9 1-0.6 0 106.6-1.2 0-0.6-15-1.2-8.4-1 3.1-0.6 9.3-0.2 11-4 0-0.4-19-0.3-60-0.5-8-1-7.6-0.5 2.6-0.5 1.9-0.9 10.1-0.5 30-0.4 9 0.2 9-0.4 20.6-0.4-20.6 0.2-10-0.5-8-0.7-26-0.6-6.2-0.6 6.2-1.4 25.8-1 1.2-1-3.1-1-0.5-1-1.3-0.9-12.1-0.4-17-0.7-6.8-1 1.1-0.4 3.7-0.8 32-0.3 3-0.4 2-1.1 0.3-0.5-1.3-1.5-9.3-2 6.6-1-1.9-1-0.3-1 3.8-1 0.6-0.5-3.5-1.2-16-0.1-7 0.1-13-0.3-6.4-0.2 6.4 0.1 14-0.3 10-0.7 15-0.9 6.4-0.5 0.6-0.5 1.1-0.8-5.1-0.3-3-0.7-18 0-18-0.2-5.6-1-0.7-0.3 2.3 0.2 15-0.1 8-0.8 11.4-1 6.5-2.6 5.1-0.4 1.3-1-2.3-1-8.4-1-5.1-0.5 2.5-0.8 6-0.4 8 0.2 42-1 0 0.2-42-1.4-32 0.2-18-0.2-5-0.8-8 0-5 1.5-9.6 1-4.7 1 2.4 1 4.7 1 0.1 0.9-4.9 1.1-2.4 1.1 2.4 0.9 6.7 1 4.3 2-1.1 1-2.4 0.9-5.5 0.3-3-0.7-13-0.1-10 0.2-5 0.4-4 1-4.2zM195 227.2l3.6 0 0.5 10-0.1 16-0.4 10.4-1 0.2-0.6-1.6-0.4-0.5-1-0.2-1-0.9-0.6-1.4-1.1-4-0.5-5 0-8 0.4-6 0.4-3 1.4-5.3zM48.6 230l1 0.2 1 0.7 1 1.5 0.7 1.8 0.8 4 0.2 6-0.2 6-0.3 2-0.5 2-0.5 1-1 1-1.2 0.8-1 0.3-1-0.1-1-0.5-1-1.2-0.5-1.3-0.5-3-0.1-6 0.1-8 0.4-3 0.6-1.8 1-1.5 1-0.7zM79.6 229.7l1 0.1 2 1.1 1.2 1.3 1 2 0.7 2 0.5 3 0.2 6-0.2 6-0.2 2-0.7 3-1 2-1.5 1.8-1 0.6-1 0.4-1 0.1-1-0.2-2-1.3-1-1.2-0.9-2.2-0.4-2-0.3-3-0.1-8 0.2-6 0.4-2 0.7-2 1.4-2 1-0.8 1-0.5zM163.6 262.3l1.4 5.9 1 6 0.3 3-0.1 3-1.4 7 0 4 0.8 5.5 1 3.1 0.5 2.4 0.7 7 0 5-0.9 17-0.3 10 0 46-1.8 0-0.7-30-1.5-22.4-0.8-18.6-1.1-14 0.2-4 0.7-6.4 0.2-3.6-0.2-11 0.2-5 0.8-7.2zM157.6 269.3l0.6 2.9 0.4 3.3 0.4 10.7 0.6 7.1 0.7 4.9 0.1 3-0.1 3-0.7 4.6-1 12-1 6.8-0.7-9.4-1.3-7.6-1 2-1 4.9-1 0.1-2.1-9.4-0.4-3-0.2-3 0.2-3 0.5-4.1 2-7.3 1-2.2 1 3.3 1 2.1 1.2-6.8zM131.6 272.8l0.9 14.4 0.3 8-1.2 46.5-1-5.2-0.6-39.3 0.1-9 0.5-12.8zM109.6 276.4l1 3.5 0.2 1.3 0.5 7-0.1 4-0.5 4-1.1 3.5-1-2.6-0.6-4.9-0.2-5 0.2-5 0.6-4.3zM111.6 335l0.5 27.2-0.1 11-0.4 9.8-0.2-25.8zM184.6 347.3l1 1.7 0.6 5.2-0.3 33-1.6 0-0.4-32 0.1-3zM197.6 351.9l1 0.1 0.5 3.2 0.2 32-2.5 0 0.1-30 0.2-3zM144.6 353.2l0.3 34-1.4 0 0.1-25z"/>
<path fill="#f6e8c3" d="M195.6 230l1 0.6 0.4 0.6 0.8 2 0.4 4 0.2 6-0.2 8-0.4 4-0.4 1-0.8 0.9-1 0.6-1-0.9-0.7-2.6-0.5-4-0.1-4 0.1-6 0.5-5 0.7-3.4zM79.6 232.1l1 0.1 1 0.5 1 1 1 1.8 0.6 1.7 0.3 2 0.3 6-0.2 6-0.3 2-0.6 2-1 2-1.1 1-1 0.5-1 0.2-1-0.3-1-0.6-1-1.2-0.8-1.6-0.5-2-0.3-2-0.2-7 0.2-5 0.4-2 0.6-2 0.6-1.1 1-1.2 1-0.6zM48.6 232.9l1 0.4 0.8 0.9 0.8 2 0.5 3 0.2 5-0.2 5-0.5 3-0.4 1-1.2 1.5-1 0.4-1-0.4-1-1.1-0.6-1.4-0.5-3-0.1-5 0.1-5 0.5-3 0.9-2 0.7-0.9zM185.6 234.1l0.6 3.1 0.2 3 0 11-0.8 8.6-1 0.3-0.6-8.9 0-11 0.6-5.4zM176.6 265.7l1 3.5 1.5 14 0 12 1.1 12 0.2 6-0.2 5-0.6 5.8-2 5.8-1 0.7-1-3.9-0.8-8.4-0.2-8 0.3-14-0.3-5.2-1-0.5-1 2.9-1 0.3-1-6.6-0.4-5.9 0.4-6 1-5.2 1 0.9 1 3.7 1 0.4 1-5.5zM184.6 268l1 1.7 1.2 10.5 0.2 5-0.4 10-0.1 21-0.5 17-0.4 5.6-1 0.7-0.4-5.3-0.7-15-0.1-20-0.3-5-0.5-5.1-1-2.2-0.9-0.7-0.2-1 0.2-2 0.9-2 1-3.5 1-5.5zM163.6 270.9l0.7 3.3 0.2 3-0.9 7-1-1.5-0.2-5.5 0.2-3.7zM190.6 274.5l2 3.4 2 0.9 1 1.4 1 0.4 1-3.1 1-1.5 1 4 1 7.1 1 0.9 0.2-2.8 0.5-3 1.3-4.6 1 1.4 1 4.5 1 2 1-1.8 2-1.1 1-1.8 1-1 1 2 0.7 4.4 0.2 4-0.2 4-0.7 5.7-1 5.3-0.8-4-1.2-4-1.4 3-0.6 2.7-1-2.7-1-0.1-1 6.7-1-0.9-0.4-4.7-1.2-8-0.4-3.9-1 1.1-1.5 9.8-0.3 4-0.2 6.5-1 6.9-0.7-16.4-0.3-2.1-1 0.7-0.5 4.4-0.3 9-0.8 5-0.4 1.8-1-1.3-1 2.1-1 5.7-1 0.1-0.7-12.4 0-17-0.3-12 0.2-4 0.8-5.6zM131.6 278.8l0.7 9.4 0.1 7-0.8 21.4-1-1.9-0.4-18.5 0.4-15.5zM109.6 279.6l1 3.5 0.3 5.1-0.3 4.7-1 3-1-2.4-0.4-6.3 0.4-5.7zM217.6 283l1 1.6 1 0.8 2-0.9 2 1.4 1 0 1 0.6 0 11.4-1 1-2 3.2-1 0.8-1-0.4-1-0.9-1 0.3-0.7 2.3-0.3 2-1-4.3-0.7-10.7 0.2-4 0.5-3zM157.6 287.7l1 2.7 0.6 5.8 0.1 5-0.2 5-0.5 5.8-1 2.7-1.6-9.5-0.2-4 0.3-5zM162.6 291.8l1 0.8 1.9 12.6 0.5 6 0 4-0.4 4.9-1 3.6-1 1.4-1-7.7-0.8-13.2 0.1-5zM153.6 294.1l1.2 5.1 0.2 2-1.4 6.8-1-2.1-0.3-4.7 0.3-4.3zM223.6 324.9l1 4.2 0.3 6.1 0.1 12-0.4 10.3-0.3-2.3-0.7-2.5-1.3-7.5-0.4-5 0.1-6 0.6-6.7z"/>
<path fill="#edd9a8" d="M79.6 233.9l1 0.2 1 0.7 1 1.4 0.4 1 0.6 3 0.2 5-0.1 5-0.3 2-0.6 2-1.2 2-1 0.7-1 0.2-1-0.4-1-0.9-1-1.9-0.5-1.7-0.2-2-0.2-5 0.2-5 0.6-3 1.1-2.1 1-0.9zM195.6 233.8l0.9 1.4 0.3 1 0.3 3 0.1 4 0 5-0.4 3-0.2 1.1-1 1.8-1-1.9-0.3-3-0.1-4 0.2-8 0.2-1.2zM48.6 235.8l1 0.7 0.6 1.7 0.4 2.2 0.1 3.8-0.1 3.8-0.4 2.2-0.6 1.6-1 0.7-1-0.7-0.6-1.6-0.4-2.5-0.1-3.5 0.1-3.4 0.4-2.6 0.6-1.6zM176.6 271.1l1 5.7 0.2 3.4 0.1 15 0.7 16-0.1 4-0.9 5-1 0.6-0.6-4.6-0.3-5 0.1-18-1-11 0.5-5zM184.6 272.8l1 2 0.6 5.4 0.1 5-0.5 37-0.2 4.8-1 1.6-0.6-13.4-0.1-19-1-13 0.4-5zM171.6 275.6l1 0.2 0.8 4.4 0.1 3-0.9 3.5-1-0.7-0.3-2.8-0.1-4zM190.6 279.1l2 3.1 1 0.6 0.9 1.4 0.5 2 0.1 2-0.5 4-1 2.5-1-0.9-1-0.4-0.6 1.8-0.4 2.3-1-4.7-0.2-6.6 0.2-4.4zM203.6 281.4l1 2.2 0.5 3.6 0.1 3-0.2 3-0.4 3-1 0.9-0.9-5.9-0.2-3 0.2-3zM109.6 282.3l0.7 2.9 0.2 3-0.2 2-0.7 2.9-0.8-2.9-0.2-3 0.1-2zM131.6 283.1l0.4 6.1 0.1 6-0.5 12.7-1-1.9-0.2-10.8 0.2-10zM198.6 282.5l0.7 4.7-0.1 2-0.6 3-0.5-2-0.3-3 0.2-2zM211.6 283.3l1 2.9 0.2 4-0.2 4.2-1 3.9-1.4-5.1-0.3-4 0.2-2 0.4-2zM221.6 288.3l1 1.8 0.3 2.1-0.3 2.9-1 2-1-0.4-0.3-0.5-0.9-3 0-1 1.2-3.3zM157.6 294.3l1 3.8 0.1 3.1-0.1 3.1-1 3.7-0.5-3.8-0.1-3 0.1-3zM163.6 302.4l0.2 3.8-0.2 3.8-0.5-4.8 0.1-2zM190.6 303.7l0 9.2-0.5-1.7-0.2-2 0.1-2z"/>
<path fill="#e3c989" d="M79.6 235.7l1 0.2 1 1.1 0.6 1.2 0.6 3 0.1 4-0.1 4-0.5 3-0.8 2-0.9 0.9-1 0.2-1-0.5-1-1.4-0.4-1.2-0.5-3-0.1-4 0.1-4 0.6-3 0.5-1 0.7-1zM184.6 276.9l1 3 0.2 6.3-0.2 9.8-0.3 4.2 0.1 9-0.3 3-0.5 2.7-0.2-18.7-0.7-12 0.2-4zM176.6 278.8l0.2 3.4-0.2 4.3-0.3-4.3zM109.6 285.8l0 3.7-0.1-2.3zM131.6 287.3l0.3 6.9-0.3 7.9-1-3-0.1-3.9 0.1-4.6z"/>
<path fill="#d8b46c" d="M79.6 237.7l1 0.4 1 2.1 0.3 2 0 6-0.3 2.6-1 2.1-1 0.4-1-0.8-0.5-1.3-0.5-2.5 0-6.5 0.3-2 0.7-1.7zM184.6 282.6l0.2 2.6-0.2 2.9z"/>
<path fill="#cc9a4c" d="M79.6 241.1l0.7 1.1 0.3 0.7 0.1 2.3-0.1 3-1 1.6-0.5-1.6-0.2-3 0.1-2z"/>
<path d="M180.1 227.2l3.5 13.4 3.2 10.6 1.9 5 3.9 7.8 1 1.6 3 3 2 1.1 2 2.2 2 0.7 1.8 1.6 1.2 0.8 2 1.7 1 0 1-0.4 1 0.1 1 0.6 2 0.7 2 1.2 1-0.1 1 0.3 2 1.7 3-0.2 2-0.7 1 0.4M68.9 227.2l2.7 10.6 1.2 6.4 2 13 0.6 3 0.5 1 0.7 1 2 2.1 1 0.5 3-1 1-0.7 1-1.1 1-2.4 0.6-3.4 2.3-17 2.1-12M169.1 227.2l3.2 14 2.2 8 3.3 8 2.8 5.4 1 1.5 2 1.3 2 2.2 2 1.3 1 0.8 2 1 1 1.2 1 1.5 1 0.9 3 1.3 1 0 1 0.3 2 1.8 2 0.3 5 3.4 1 0 1-0.6 1 0 1 0.5 2 0.5 2 1 1-0.1 1 0.2 2 1.6 3-0.2 2-0.8 1 0.3M157.4 227.2l1.2 6.5 1 4.2 1.3 4.3 1.7 4.5 2 3.5 2 4.3 3 3.8 2 1.6 2 2.4 1 0.6 1 0.3 1 0.8 4 4.8 1 0.9 2 0.4 2 1.6 2 0.9 1 0.7 2 0.6 1 1.1 1 1.5 1 0.8 3 1 1-0.1 1 0.2 2 1.6 2 0.2 5 3.3 1-0.1 1-0.6 1-0.1 1 0.5 2 0.4 2 1 1-0.1 1 0.2 2 1.6 3-0.3 2-0.8 1 0.3M34.6 259l1-1 1-0.3 1 0.3 2 0.3 2 0.7 1-0.3 1 0 1 0.6 1 0.4 5-1.1 1 0.7 1 1.2 1 0.7 1 0.3 2 1.3 2 0.7 1 0.8 1 0.3 2-0.6 3 1.8 2 1.5 1 0 1-0.3 1 0.2 1 0.6 1 0.1 1-0.2 2 0.1 1-0.2 1 0.2 1 0.9 1 0.6 3-0.8 2-1.2 1-0.3 1-0.1 1-0.8 1-1.3 2.2-1.6 1-1 1.4-2 0.9-2 1.5-6 4.6-25M154.8 227.2l1.3 7 2.1 10 1.2 5 1.2 3.8 1 2.3 1 1.3 1 0.8 1 1.2 2 3.4 3 2.6 1 0.6 1 0.3 2 1.8 1 0.3 1 0 1 0.5 3 2.8 1 1.2 1 0.7 2 0 2 1.4 2 0.7 1 0.7 2 0.5 1 1 1 1.4 1 0.8 3 0.7 1-0.1 1 0.2 2 1.5 2 0.2 2 1.3 1 0.5 2 1.4 1-0.2 1-0.6 1-0.1 1 0.5 2 0.4 2 1 1-0.2 1 0.2 2 1.5 3-0.3 2-0.8 1 0.3M34.6 263.4l1-1 1-0.3 1 0.3 2 0.2 1 0.5 1 0.2 1-0.4 1-0.1 2 1 5-1.4 1 0.6 1 1.2 1 0.6 1 0.2 2 1.1 2 0.6 1 0.7 1 0.2 2-0.8 3 1.6 2 1.4 1-0.1 1-0.4 1 0.1 1 0.5 1 0 1-0.3 2 0 1-0.3 1 0.2 1 0.8 1 0.6 3-0.8 2-1.2 1-0.2 1 0.1 1-0.6 1-1 1-0.5 1 0 3-0.8 1-0.6 2.9-5.1 4.1-8.6 4-12.3 2.9-12.1M152.1 227.2l1.5 8 1.4 6 1.1 4 2.9 9 2.6 5.7 1 1.5 1 0.6 1 1 2 3.1 3 2.1 1 0.5 1 0.2 2 1.5 1 0.2 1-0.1 1 0.4 3 2.5 1 1.1 1 0.6 2-0.2 2 1.3 2 0.6 1 0.6 2 0.4 1 0.9 1 1.4 1 0.7 3 0.7 1-0.2 1 0.2 2 1.5 2 0 2 1.4 1 0.4 2 1.4 1-0.2 1-0.7 1 0 1 0.4 2 0.4 2 0.9 1-0.1 1 0.2 2 1.5 3-0.3 2-0.9 1 0.4M34.6 265.6l1-1 1-0.2 1 0.2 2 0.2 1 0.5 1 0.2 1-0.4 1-0.1 2 0.9 5-1.5 1 0.6 1.1 1.2 0.9 0.5 1 0.1 2 1.1 2 0.5 1 0.6 1 0.2 1-0.5 1-0.3 3 1.5 2 1.3 1-0.1 1-0.5 1 0.2 1 0.4 1 0 1-0.3 2-0.1 1-0.3 1 0.1 1 0.9 1 0.6 3-0.9 2-1.2 1-0.1 1 0.1 1-0.6 1-0.9 1-0.3 1 0.1 2-0.2 1 0.1 1-0.5 2-2.8 2-2.5 1-1.6 2-2.8 2-4.1 2-3.1 1-2.2 5-13 2-3.8 1.9-4.6M149.2 227.2l3 13 2.4 8.3 1 2.8 3 7 1 1.9 3 4.4 2 1.6 2 3 3 1.8 1 0.4 1 0.2 2 1.3 1 0.2 1-0.3 1 0.4 3 2.2 1 1 1 0.6 2-0.3 2 1.2 2 0.5 1 0.5 2 0.4 1 0.9 1 1.3 1 0.7 3 0.6 1-0.2 1 0.1 2 1.5 2 0 2 1.3 1 0.4 2 1.3 1-0.2 1-0.6 1-0.1 1 0.4 2 0.4 2 0.9 1-0.1 1 0.1 2 1.6 3-0.4 2-0.8 1 0.3M34.6 267.4l1-1 1-0.3 1 0.3 2 0.1 1 0.5 1 0.2 1-0.4 1-0.2 2 0.9 5-1.6 1 0.6 1 1.1 1 0.5 1 0.2 2 1 2 0.4 1 0.6 1 0.2 1-0.6 1-0.3 3 1.4 2 1.3 1-0.1 1-0.5 1 0.1 1 0.5 1-0.1 1-0.3 2-0.1 1-0.4 1 0.1 1 0.9 1 0.6 3-0.9 2-1.1 1-0.2 1 0.1 1-0.5 1-0.8 1-0.3 1 0.2 2 0 1 0.2 1-0.3 2-2.6 2-1.9 1-1.3 2-2.2 2-3.4 2-2.1 1-1.6 4-8.4 1-1.8 2-2 2-2.7 1-0.9 1.1-1.3 1.7-3 0.8-2 1.4-5M144.6 227.2l1.2 5 1.3 4 0.9 2 1.6 3 3 7.3 2 5.5 1 2.2 1 1.7 2 4.2 1 1.6 3 3.6 2 1.6 2 2.9 3 1.7 1 0.3 1 0.1 2 1.2 1 0.1 1-0.3 1 0.3 3 2.1 1 1 1 0.5 2-0.4 2 1.1 2 0.4 1 0.5 2 0.3 1 0.9 1 1.3 1 0.7 3 0.4 1-0.2 1 0.1 2 1.4 2 0 2 1.2 1 0.4 2 1.4 1-0.2 1-0.7 1-0.1 1 0.4 2 0.3 2 1 1-0.2 1 0.2 2 1.5 3-0.4 2-0.8 1 0.3M34.6 269.1l1-1 1-0.3 1 0.2 2 0.1 1 0.4 1 0.2 1-0.4 1-0.2 2 0.9 5-1.7 1 0.5 1 1.1 1 0.5 1 0.1 2 1 2 0.3 1 0.6 1 0.2 1-0.6 1-0.4 3 1.4 2 1.3 1-0.1 1-0.5 1 0.1 1 0.4 1-0.1 1-0.3 2-0.1 1-0.4 1 0.1 1 0.8 1 0.6 3-0.9 2-1.1 1-0.2 1 0.2 1-0.5 1-0.8 1-0.2 1 0.2 2 0.1 1 0.3 1-0.2 2-2.4 2-1.4 1-1.2 2-1.8 2-2.9 1-0.9 1-0.6 1-1.4 4-7.2 1-1.6 2-1.4 2-2.3 2-1.1 1-0.9 2-1.5 1-1.5 3.5-6.4 1.1-3 0.9-4M34.6 271l1-1 1-0.4 1 0.2 2 0.1 1 0.3 1 0.1 1-0.4 1-0.2 2 0.7 5-1.8 1 0.6 1 1 1 0.5 1 0.1 2 0.8 2 0.4 1 0.5 1 0.1 1-0.6 1-0.3 3 1.3 2 1.2 1-0.1 1-0.5 1 0.1 1 0.4 1-0.1 1-0.3 2-0.2 1-0.4 1 0.1 1 0.8 1 0.6 3-0.9 2-1.1 1-0.1 1 0.1 1-0.5 1-0.8 1-0.1 1 0.3 2 0.2 1 0.3 1-0.2 2-2.1 2-1.1 1-1 2-1.5 2-2.5 2.3-1.4 0.7-0.8 4-6.5 1-1.4 2-1.2 2-2.2 5-2.6 1-1.2 1-1.6 1-1 3-1.3 2-0.4 1-0.7 1-0.4 2 0.7 3-1.2 2-1.2 1 0.2 1 0.7 2 0.4 4 3.2 2 2.4 1 0.6 1 1 3 5.7 2 4.7 2 3.4 2 3.9 1 1.4 2.3 2.4 2.7 2.3 2 2.8 3 1.5 1 0.2 1 0.1 2 1.2 1 0 1-0.4 1 0.3 3 1.9 1 1 1 0.5 2-0.5 2 1 2 0.3 1 0.5 2 0.3 1 0.8 1 1.3 1 0.6 3 0.4 1-0.2 1 0 2 1.4 2-0.1 2 1.2 1 0.4 2 1.3 1-0.2 1-0.7 1-0.1 1 0.4 2 0.3 2 0.9 1-0.1 1 0.1 2 1.5 3-0.4 2-0.8 1 0.3M34.6 273.7l1-1.1 1-0.5 1 0.1 2-0.2 1 0.3 1 0 1-0.5 1-0.3 2 0.6 2-0.9 1-0.2 2-0.9 1 0.6 1 1 1 0.4 1 0 2 0.8 2 0.3 1 0.5 1 0.1 1-0.6 1-0.4 3 1.2 2 1.2 1-0.1 1-0.5 1 0 1 0.4 1 0 1-0.4 2-0.2 1-0.4 1 0.1 1 0.8 1 0.6 3-0.9 2-1.2 1-0.1 1 0.2 1-0.5 1-0.8 1-0.2 1 0.4 2 0.2 1 0.4 1-0.2 2-2 2-0.8 1-0.9 2-1.2 2-2.2 1-0.5 1-0.2 1-0.8 3-4.1 1-1.6 1-1.2 2-1.1 2-2.2 5-2.6 1-1.3 1-1.5 1-0.9 3-1 2-0.1 1-0.6 1-0.2 2 0.7 2-0.8 3-0.9 1 0.6 1 1 1 0.5 1 0.1 3 1.5 1 0.7 2 2 1 0.3 1 0.7 3 5.2 2 4.4 2 2.9 2 3.8 1 1.4 2 1.9 3 2.5 2 2.7 3 1.2 1 0.2 1-0.1 2 1.1 1 0 1-0.4 1 0.2 3 1.9 1 0.9 1 0.4 2-0.5 2 0.9 2 0.3 1 0.4 2 0.2 1 0.8 1 1.3 1 0.6 3 0.3 1-0.3 1 0.1 2 1.2 2 0 2 1.1 1 0.4 2 1.3 1-0.3 1-0.6 1-0.2 1 0.4 2 0.3 2 0.9 1-0.2 1 0.2 2 1.5 3-0.5 2-0.8 1 0.3M34.6 307.2l3.6-30 1.4-1 2-0.6 1-0.8 1-0.6 2 0.3 2-1.1 1-0.3 2-1 1 0.4 1 1 1 0.3 1 0 2 0.7 2 0.1 1 0.5 1 0.1 2-1.1 3 1.1 2 1.2 1-0.1 1-0.6 1 0 1 0.4 1-0.1 1-0.3 2-0.3 1-0.4 1 0.1 1 0.8 1 0.6 3-0.9 2-1.2 1-0.2 1 0.2 1-0.5 1-0.8 1-0.1 1 0.3 2 0.3 1 0.4 1-0.2 2-1.9 2-0.7 1-0.8 2-1 2-1.9 1-0.4 1 0 1-0.8 5-6.3 2-0.9 2-2 2-0.8 1-0.6 2-0.9 1-1.3 1-1.6 1-1 3-1.2 2-0.1 1-0.6 1-0.3 2 0.7 2-0.9 3-0.6 1 0.7 1 1.2 1 0.7 1 0.1 1 0.6 2.9 2 2.1 2.2 1 0.2 1 0.6 3 5 2 4.2 2 2.8 2 3.7 1 1.4 3 2.6 1 0.5 1 0.8 2 2.7 3 0.9 2 0.1 2 1 1-0.1 1-0.4 1 0.1 3 1.7 1 0.9 1 0.5 2-0.7 2 0.9 2 0.2 1 0.4 2 0.1 1 0.8 1 1.2 1 0.5 3 0.3 1-0.3 1 0 2 1.2 2-0.1 2 1.1 1 0.4 2 1.2 1-0.2 1-0.7 1-0.1 1 0.3 2 0.3 2 0.9 1-0.2 1 0.1 2 1.5 3-0.5 2-0.8 1 0.4M39.5 387.2l1.1-11.2 1.3-15.8 5.8-82 0.9-1 2-1.6 1 0.2 1 0.8 1 0.1 1-0.2 2 0.4 2-0.1 1 0.4 1 0 2-1.2 3 1 2 1 1-0.2 1-0.6 1 0 1 0.4 1-0.1 1-0.5 2-0.2 1-0.5 1 0.1 2 1.3 3-0.9 2-1.2 1-0.2 1 0.2 1-0.5 1-0.8 1-0.1 1 0.3 2 0.3 1 0.4 1-0.1 2-1.9 2-0.5 1-0.6 2-0.9 2-1.6 1-0.3 1 0.1 1-0.6 5-5.8 2-0.8 2-2 2-0.8 1-0.6 2-0.9 1-1.3 1-1.6 1-1 3-1.3 2-0.1 1-0.7 1-0.4 2 0.6 2-0.9 3-0.4 1 0.8 1 1.3 1 0.8 1 0.3 4 3.2 1 1.4 1 1 1 0.3 1 0.6 3 5 2 4.2 1 1.6 1 1.1 2.1 3.8 0.9 1.2 2 1.7 1 0.8 1 0.3 1 0.7 2 2.6 3 0.6 2-0.1 2 0.9 1-0.1 1-0.5 1 0.2 3 1.6 1 0.8 1 0.4 2-0.7 2 0.7 2 0.1 1 0.4 2 0 1 0.8 1 1.1 1 0.6 3 0.1 1-0.3 1-0.1 2 1.2 2-0.2 2 1.1 1 0.4 2 1.2 1-0.3 1-0.7 1-0.1 1 0.3 2 0.2 2 0.9 1-0.2 1 0.1 2 1.5 3-0.5 2-0.8 1 0.3M55.5 387.2l13.4-106 1.5-1 1.2 0.3 2-0.8 2-0.6 1-0.4 1-0.1 2 1.3 3-1.1 2-1.3 1-0.2 1 0.2 1-0.5 1-0.8 1-0.1 1 0.3 2 0.3 1 0.3 1-0.1 2-1.7 2-0.2 1.7-0.8 1.3-0.3 2-1.3 1 0 1 0.3 1-0.4 3-2.9 1-1.4 1-1 2-0.8 2-2 2-0.8 1-0.6 2-1 1-1.3 1-1.7 1-1.1 3-1.4 2-0.3 1-0.7 1-0.4 2 0.5 2-0.9 3-0.3 1 0.9 1 1.4 1 0.9 1 0.4 1 1 3 3.4 1 1.6 1 1.2 1 0.4 1 0.7 3 5.3 2 4.3 1 1.6 1 1.2 2 3.6 1 1.4 2 1.7 1 0.6 1 0.2 1 0.6 2 2.2 3 0.4 2-0.3 2 0.8 1-0.2 1-0.6 1 0.1 3 1.5 1 0.7 1 0.4 2-0.8 2 0.6 2 0 1 0.4 2-0.1 1 0.7 1 1.1 1 0.5 3 0 1-0.4 1 0 2 1.1 2-0.3 2 1.1 1 0.3 2 1.1 1-0.2 1-0.8 1-0.1 1 0.4 2 0.3 2 0.8 1-0.3 1 0.1 2 1.6 1-0.1 4-1.1 1 0.3M96.2 387.2l1.9-11 3-16 3.1-15 5.4-25 3-13.4 3.6-12.6 2.4-9.8 0.6-1.2 0.4-1.2 2-3.9 2.6-3.9 0.4-0.9 3-3.6 4-3.5 1-0.3 1-0.7 2 0 1 0.7 0.8 0.3 1.2 1 3 2.8 2 2.2 0.2 1 1.8 2 0.1 1 0.9 1 0.1 1 0.4 1 0.5 0.7 0.4 1.3 0.7 1 1.9 1.9 1 0.7 1.1 0.4 0.9 0.8 0.5 1.2 0.5 0.6 0.1 0.4 1.9 2 1 1.6 0 0.4 3 2.9 0.7 0.1 1.3 0.9 1-0.1 2 0.2 1 1 1-0.1 1-0.9 2-0.1 1-0.9 1 0.9 1 0.1 1 0.9 0.4 0.1 2.6 1.6 1.1 0.4 0.9 0.7 1 0.3 1 0.8 0.7 0.2 4.3 2.5 1.1 0.5 0.9 0.6 1 0.4 1 0.7 4.1 2.3 5.9 3.8 6 3 3 1.2 2.9 1 4.1 1 6 1 3 0.1M150.8 387.2l2.3-5 3.1-6 3.3-6 3.5-6 7.8-12 7.8-10.6 3-5 1-1 1-0.1 1 0.2 5 1.5 12 0.1 2-0.2 2-0.6 6-2.6 3-1.7 2-0.9 5-1.5 2-0.3 2-0.1" fill="none" stroke="#3a3a3a" stroke-width="0.42" stroke-opacity="0.75" stroke-linejoin="round"/>
<path d="M35.9 385.5l0-100.1 0.2 0 7.2 2.6 5.8 1.5 16 3.2 20.3 4.8 26.1 5 5.8 1.3 4.3 1.2 5.8 2.3 2.9 0.8 5.1 1 12.3 1.8 3.6 1.1 3.7 1.7 1.4 0.8 2.2 1.7 7.9 8.1 5.8 6.8 9.5 12.3 1.4 1.7 1.5 1.2 2.1 1.4 1.5 0.9 2.2 0.7 2.9 0.2 8.7 0.4 1.4 0.2 2.2 0.5 1.4 0.5 0.8 0.5 1.4 1.1 1.5 1.5 1.4 2 2.2 3.9 1.4 2.9 2.2 4.9 1.5 3.6 1.4 4.2 2.9 9.6 0.2 0 0 0.2z" fill="#808080"/>
</g>
<g clip-path="url(#cd)">
<rect x="311" y="224.1" width="185.7" height="162.2" fill="#fff7fb"/>
<path fill="#fbf3f9" d="M310.5 223.6l187 0 0 164-187 0z"/>
<path fill="#f4eaf4" d="M310.5 223.6l187 0 0 50.4-5-0.8-3-1-4-1.9-6-3.8-5.3-4.9-2.9-2-2.5-1-3.3-1-14-3.2-3-1.2-1.6-1.6-2-3-6.8-12-1.9-4-0.7-2.1-1-0.6-3 0.2-36 0-5-0.6-1 0.8-0.6 2.3-1.7 3-3 4-2.7 3-3 2.6-8 5.5-2 1.9-4 4.5-2 1.8-0.5 0.7-0.2 1 0.1 2-0.4 1-1 1.2-1 0.5-1 0-1-0.3-2-1.6-4-1.1-5-1.6-5-0.7-3-0.7-2-1.6-4-3.9-3.2-2.2-1.9-1-0.9-0.2-2.2 0.2-3.8 1-4 1.7-2 0.6-1 0.2-2-0.9-1 0.2zM436.5 266.8l1-0.1 1 0.3 1 1 0.4 0.6 0.2 1 0 1-0.2 1-0.4 0.6-1 1-1 0.3-1-0.1-1-0.7-0.7-1.1-0.3-1 0-1 0.3-1 0.7-1.1zM476.5 267.9l1-0.2 1 0.2 1 1 0.6 1.7 0 1-0.6 1.6-1 1.1-1 0.4-1-0.1-1-0.6-0.9-1.4-0.3-1 0.1-1 0.3-1 0.8-1.1zM315.8 282.6l0.7-1.1 1-0.4 2-0.4 5-0.1 8 0.3 5 0.4 5 0.8 5 1.1 12 3.1 2 0.1 4-0.6 3 0.2 2 0.8 1.3 0.8 1 1 1.7 2.3 1 1 4.4 2.7 1.2 1 0.8 1 0.3 1-0.3 1-1.4 0.9-1 0.4-3 0.6-4 0.2-5-0.1-5-0.4-6-0.9-5-1.1-18-4.9-4-1.3-4-1.5-3.7-1.9-3-2-2.1-2-0.6-1zM432.2 311.6l0.3-0.2 1 0 2 1 3 2 3 2.7 4 4.2 9 11.6 2 2.2 3.3 2.5 2.7 1.5 8 2 3.5 1.5 1.4 1 0.9 1 0.5 1-0.1 1-0.7 1-1.7 1-3.8 1.3-4 0.8-3 0.2-1-0.1-2-0.6-2-1.1-2-1.5-2-2.1-3.6-4.9-5.4-7.7-9.7-13.3-2.5-4-1-2-0.2-1z"/>
<path fill="#ece2f0" d="M310.5 223.6l79.6 0-0.6 0.9-0.1 1.1 1.1 0.2 1.3-0.2 0.7-0.4 1-0.3 2-0.1 36 0 3 0.2 0.6-0.4-0.3-1 62.7 0 0 49-4-0.5-3-0.9-3-1.2-3-1.7-5-3.4-6.1-5.3-1.5-1-2.1-1-3-1-15.3-3.6-3-1.2-1-0.9-1-1.3-2.6-4-5.1-9-3.3-7.1-1-0.3-3 0.2-36 0-3-0.3-2.1-0.5-0.9 0.5-0.8 2.5-1.8 3-3 4-2.4 2.7-2 1.8-9.3 6.5-1.7 1.7-4 4.5-3.2 2.8-0.7 1 0.5 2 0 1-0.5 1-1.1 0.8-1 0-1-0.5-1-1.2-1-0.8-3-0.7-5-1.6-7-1.2-2-0.5-2-1.5-4-3.9-3-2.1-2-1.1-2-0.2-2.6 0.5-3.4 1-3 1.3-2 0.6-1 0.2-2-0.8-1 0.1zM436.5 269.6l1-0.5 0.5 0.5 0 1-0.5 0.5-1-0.5zM476.5 270.6l1-0.3 0.3 0.3 0.2 1-0.5 0.6-1-0.3-0.1-0.3zM329.4 286.6l0.3-1 1.8-0.7 3-0.4 4 0.1 4 0.5 4 0.8 12 3.2 1 0 1-0.3 4-1.7 1-0.2 2 0.1 2 0.6 1.4 1 0.7 1 0.4 1 0 2-0.5 1.5-1 1.3-1 0.7-1 0.4-2 0.3-3 0.1-7-0.6-8-1.7-10.1-3-5.1-2-1.9-1-1.3-1z"/>
<path fill="#e1dcec" d="M310.5 223.6l78.8 0-0.1 1-0.5 1 0.8 0.6 1 0.1 2-0.5 3-0.2 40.2 0 0-2 61.8 0 0 48.3-5-0.9-3-1-4-1.9-6-4-5.1-4.5-2.9-2.1-2.3-0.9-3.2-1-14.5-3.4-3-1.2-1.4-1.4-2.1-3-5.2-9-4.3-8.5-1-0.3-3 0.2-36 0-3-0.4-2-0.8-1 0.3-0.7 2.5-1.1 2-2.9 4-2.3 2.9-3 2.8-9.1 6.3-1.9 1.8-4 4.6-4.2 3.6-0.6 1 0.7 2 0 1-0.9 1.2-1 0-1-0.8-1-1.6-1-0.4-4-0.8-4.8-1.6-5.2-0.8-3-0.7-2-1.5-4-3.9-3-2.1-2-1.1-2-0.2-1.7 0.3-3.7 1-3.6 1.5-2 0.7-1 0.1-2-0.8-1 0.1zM360.7 291.6l0.4-1 1.4-1.5 1-0.7 2-0.7 2 0 1 0.3 1.1 0.6 0.9 1 0.4 1 0 1-0.4 0.9-1 1.1-1 0.6-2 0.4-3-0.3-1.7-0.7-1-1zM344.8 289.6l1.7-0.2 2 0.2 3.2 1 1.5 1-1.7 0.2-2.1-0.2-3.1-1z"/>
<path fill="#d6d5e8" d="M310.5 250.6l0-27 78.5 0-0.2 1-0.6 1 1.1 1 0.1 1-0.5 2-1 2-2 3-3.2 4-2.2 2.3-10 7.1-2 1.9-4 4.5-4.9 4.2-0.9 1 0.1 1 0.7 0.4 0.3 0.6 0.1 1-0.4 0.5-1 0.1-0.6-0.6-0.5-2-3.9-0.5-7-2.1-6-1-2-0.5-2-1.5-4-3.9-3.6-2.5-1.4-0.7-1-0.2-1 0-2 0.4-4 1.1-5 2-1 0.1-2-0.8zM390.7 226.6l1.8-0.6 3-0.2 40 0.1 1.1-0.3-0.6-2 61.5 0 0 47.7-3-0.4-3-0.8-3-1.1-2-0.9-7-4.6-7-5.9-2-1.1-6.1-1.9-11.9-2.7-2-0.6-2-0.9-2-2.1-2.3-3.7-4-7-4.7-9-1-0.2-3 0.3-36 0-2-0.2-2-0.6-0.5-0.3zM362.6 290.6l0.6-1 1.3-1 2-0.4 1 0.1 1 0.4 1.1 0.9 0.4 1-0.1 1-0.7 1-0.7 0.5-2 0.5-2-0.3-1-0.5-0.9-1.2z"/>
<path fill="#c8cde4" d="M310.5 250.1l0-26.5 78.3 0-0.3 1-0.7 1 0.9 1 0.3 1-0.3 2-1.8 3-4.4 5.7-3 2.9-9 6.2-2 1.9-4 4.6-6 5.1-1 0.5-2 0.3-2-0.3-7-2.1-6-0.9-2-0.5-2-1.5-4-3.9-4-2.7-2-0.7-2 0.1-4 1.1-6 2.2-1 0.2-2-0.9zM391.4 226.6l2.1-0.6 2-0.1 36 0 4 0.2 1-0.2 0.5-0.3-0.8-2 61.3 0 0 47.1-2-0.2-3-0.6-3-1-3-1.4-7-4.5-6-5.2-2-1.4-1-0.4-5-1.6-14-3.3-3-1.2-1.3-1.3-2.1-3-5.2-9-4.4-8.3-1-0.2-3 0.3-36 0-3-0.5-0.7-0.3zM363.6 290.6l0.9-1.2 1-0.5 1-0.1 1 0.1 1 0.5 0.7 1.2-0.2 1-0.5 0.6-1 0.5-1 0.2-1-0.1-1-0.5-0.7-0.7z"/>
<path fill="#b7c5df" d="M310.5 249.6l0-26 78 0-0.8 1-0.5 1 0.3 0 0.8 1 0.4 1 0.1 1-0.4 1-1.9 3.1-4 5.1-3 2.9-9 6.2-2 1.9-5 5.5-4 3.3-2 1.3-2 0.4-2-0.3-7-2.1-6-0.9-2-0.5-2-1.5-4-3.9-4-2.7-2-0.7-2 0.1-4 1.1-6 2.3-1 0.1-2-0.9zM392 226.6l1.5-0.4 3-0.2 35 0 4 0.3 1-0.2 0.8-0.5 0-1-0.7-1 60.9 0 0 46.6-2-0.2-3-0.6-4-1.4-2-1-7-4.5-6-5.2-3-1.8-5-1.6-14-3.3-3-1.2-1-0.9-2.1-2.9-5.2-9-3.6-7-1.1-1.7-1-0.1-3 0.4-36 0-2.9-0.6zM364.6 290.6l0.8-1 1.1-0.2 1.1 0.2 0.8 1-0.5 1-0.4 0.3-1 0.2-1-0.2-0.5-0.3z"/>
<path fill="#a5bddb" d="M310.5 249.1l0-23.4 76 0 1 0.2 0.6 0.7 0.4 2-0.9 2-3.1 4.3-3 3.5-2.6 2.2-8.4 5.9-2 1.8-3 3.5-2 2-5 4-2 0.9-1 0.1-2-0.2-7-2.2-5.6-0.8-2.4-0.6-2-1.5-4-3.9-4-2.7-2-0.7-2 0.1-4 1.1-6 2.3-1 0.1-2-0.8zM392.7 226.6l1.8-0.3 37-0.1 4 0.3 1-0.1 1-0.7 60 0 0 44.1-2-0.2-3-0.7-3.8-1.3-2.2-1-7-4.6-6-5.2-2-1.3-1-0.5-5-1.6-14-3.3-3-1.2-1-0.9-2-2.8-5-8.6-3.7-7-1.3-2.2-1-0.2-0.3 0.4-0.7 0.2-2 0.2-36 0-2.1-0.4zM366.2 290.6l0.3-0.2 0.4 0.2-0.4 0.3z"/>
<path fill="#8eb5d6" d="M310.5 248.6l0-22.8 76 0.1 1 0.2 0.4 0.5 0.3 2-0.7 1.7-4 5.3-2 2.3-2 1.8-9 6.2-2 1.9-5 5.5-4 3.3-2 1.2-1 0.4-1 0.1-2-0.3-7-2.1-6-0.9-2-0.5-2-1.5-4-3.9-4-2.7-2-0.7-2 0.1-4 1.1-6 2.2-1 0.2-2-0.9zM393.5 226.6l3-0.3 35 0 2.6 0.3-1 1-1.6 0.1-36 0-1-0.1zM436.4 226.6l1.1-0.7 60-0.1 0 43.4-2-0.2-3-0.6-3-1-3-1.4-7-4.5-6-5.2-2-1.4-1-0.4-5-1.6-14-3.3-3-1.2-1-0.9-2-2.8-5-8.6-4.5-8.5z"/>
<path fill="#74add1" d="M310.5 248l0-22 76 0 1.2 0.6 0.1 2-0.3 1.1-3 4.1-3 3.5-2.7 2.3-8.3 5.8-2 1.9-3 3.4-2 2-4.9 3.9-2.1 1-1 0.1-2-0.2-7-2.1-6-1-2-0.5-2-1.5-4-3.9-4-2.7-2-0.7-2 0.2-4 1-6 2.3-1 0.1-2-0.8zM394.4 226.6l38.8 0-0.7 0.5-1 0.2-36-0.1zM436.7 226.6l0.8-0.6 1-0.1 59 0.1 0 42.7-3-0.4-2.7-0.7-3.3-1.1-2-1-7-4.6-7-5.9-2-1.1-6-1.9-13-3-3-1.2-1-0.9-1.7-2.3-5.3-9-3.7-7-0.3-1z"/>
<path fill="#5da4cc" d="M310.5 247.5l0-21.4 76 0 1 0.5 0 2-0.3 1-3 4-2.7 3.1-3 2.6-8 5.5-2 1.9-3 3.4-2 2-4 3.3-1 0.7-2 0.9-1 0.1-2-0.2-7-2.1-5-0.8-3-0.7-2-1.5-4-3.9-3.3-2.3-1.7-0.9-0.6-0.1-2.4 0.1-4 1-4 1.7-2 0.6-1 0.1-2-0.8zM437 226.6l0.5-0.4 1-0.1 59 0 0 42-2-0.2-3-0.7-4-1.3-3-1.6-6-3.9-5.4-4.8-3-2-2.6-1-3-0.9-14-3.3-3-1.1-1-0.9-1-1.3-5.7-9.5-3.2-6-0.8-2z"/>
<path fill="#499ac6" d="M310.5 247l0-20.8 76 0.1 0.7 0.3 0.1 2-0.4 1-3.9 5-1.5 1.7-2 1.7-9.3 6.6-5.7 6-4 3.6-3 2-1 0.3-3-0.1-5.7-1.8-7.3-1.2-2-0.6-1-0.6-4-3.9-2.1-1.7-2.9-1.9-2-0.6-3.9 0.5-3.3 1-3.8 1.7-2 0.3-1-0.3-1-0.5zM437.2 226.6l1.3-0.4 59 0 0 41.4-3-0.3-3-0.9-3-1-2-1-5-3.1-3-2.2-5-4.5-1.4-1-2.1-1-3-1-3.8-1-10.7-2.4-3-0.9-1-0.6-1-0.9-1.8-2.2-5.8-10-1.4-3-0.7-1-0.6-2z"/>
<path fill="#3590bf" d="M310.5 246.5l0-20.1 75 0 1.3 0.2 0.4 1 0 1-1.3 2-4.4 5.3-3 2.5-6.2 4.2-2.6 2-4.5 5-1.7 1.7-5 4-2 0.9-1 0.1-2-0.2-3-0.9-1.5-0.6-3.5-0.9-4-0.5-3-0.7-2-1.5-3.4-3.4-2.6-2-1.5-1-2.5-1-1 0-4.3 1-6.7 2.6-1 0.1-2-0.9zM437.4 226.6l1.1-0.3 59 0.1 0 40.9-2-0.2-4-1-3-1.1-2-0.9-6-3.9-7.9-6.6-1.7-1-2.6-1-3.5-1-14.3-3.3-2-0.9-1-0.9-1.5-1.9-5.3-9-2.2-4.2-0.6-0.8-0.3-1z"/>
<path fill="#218aab" d="M310.5 246.4l0-19.9 76 0.1 0.6 1-0.1 1-2 3-1.7 2-2.8 2.9-2 1.7-8 5.4-2 1.9-2.6 3.1-2.4 2.4-5 4-2 0.9-2 0.1-3-0.7-4.9-1.7-4.1-0.5-4-0.9-2-1.6-3-3-4-3-2-1-1-0.2-2.5 0.2-3.7 1-3.8 1.7-2 0.6-1 0.1-2-0.8zM437.9 226.6l0.6-0.2 59 0.1 0 40.5-5-0.9-3-0.9-4-2-6-3.9-5.3-4.7-2.7-2-2.5-1-3.2-1-6.3-1.4-1.8-0.6-6.2-1.3-3-1.1-1.6-1.6-2.1-3-0.3-0.9-2.5-4.1-0.5-1.1-0.7-0.9-3.1-6-0.1-1z"/>
<path fill="#0c8495" d="M438.4 226.6l59.1 0.1 0 40-4-0.5-3-0.9-3-1.2-2-1.1-6-4-6.2-5.4-1.5-1-2.2-1-3-1-4-1-11.1-2.5-3-1.2-1.4-1.3-2.1-3-0.5-1.1-3.6-5.9-0.4-1-1.8-3-0.9-2-0.1-1zM310.5 246.2l0-19.5 75 0 1 0.1 0.5 0.8-0.2 1-0.5 1-3.1 4-2.7 2.8-5 3.6-4 2.6-3 2.8-3.7 4.2-5.3 4.5-2 1.2-2 0.5-3-0.5-5.1-1.7-7.9-1.3-1-0.3-2-1.5-4-4-2.8-1.9-2.2-1.2-2-0.1-2.4 0.3-3.5 1-4.1 1.8-2 0.4-2-0.8z"/>
<path fill="#027d80" d="M310.5 246l0-19.2 74 0 2 0.2 0.3 0.6-0.1 1-0.5 1-3.1 4-2.6 2.6-9.2 6.4-2.8 2.6-4 4.4-5 4.3-2 1.3-1 0.3-2 0-2-0.3-5-1.7-8-1.3-1-0.4-1-0.6-4-3.9-2.1-1.7-3-2-1.9-0.5-4 0.5-3.3 1-3.7 1.7-2 0.3-1-0.3-1-0.5zM437.9 227.6l0.6-0.9 59 0.1 0 39.7-4-0.5-3-0.9-4-1.7-2-1.2-6-4.1-5-4.5-1.4-1-2.1-1-2.9-1-3.8-1-11.8-2.7-2-0.6-1-0.6-1.2-1.1-1.5-2-1.9-3-0.4-1-2.5-4-0.4-1-0.7-1-0.4-1-0.7-1-0.9-2z"/>
<path fill="#01746c" d="M310.5 245.8l0-18.9 75 0.1 1 0.2 0.2 0.4-0.2 1-0.4 1-3.2 4-2.4 2.5-9.3 6.5-1.7 1.4-6 6.4-4 3.3-2 1.3-1 0.3-1 0.1-2-0.1-6-1.9-3.8-0.8-4.2-0.6-2-0.9-4-3.9-1.9-1.6-3.1-2.1-2-0.6-2 0.2-2.5 0.5-3.1 1-3.4 1.5-2 0.3-1-0.2-1-0.6zM438 227.6l0.5-0.7 59 0 0 39.5-3-0.3-3-0.8-3-1.1-2-0.9-6-3.9-2-1.5-5-4.5-1.1-0.8-1.9-1-2.9-1-12.1-3-3-0.5-3-1-1-0.6-1-0.9-1.6-2-1.9-3-0.4-1-4.7-8-0.9-2z"/>
<path fill="#016b58" d="M310.5 245.6l0-18.5 75 0 1.1 0.5-0.2 1-0.5 1-3.1 4-2.3 2.3-9.5 6.7-2.5 2.3-5 5.4-5 4-2 0.9-1 0.1-2-0.2-6-1.8-2.9-0.7-4.1-0.5-2-0.6-2-1.4-3-3.1-1.7-1.4-3.3-2.2-2-0.7-2 0.2-3 0.7-7 2.6-1 0.1-1-0.3-1-0.5zM438.1 227.6l0.4-0.6 59 0.1 0 39.2-3-0.4-3-0.7-3-1.1-2-1-6-3.9-3-2.3-4.9-4.3-2.1-1.1-6-1.9-8.4-2-3.6-0.7-3-0.9-1-0.6-1-0.9-1.5-1.9-1.9-3-1.5-3-3.6-6-0.9-2z"/>
<path fill="#015d4b" d="M310.5 245.5l0-18.3 75 0 0.9 0.4-0.1 1-0.5 1-4.3 5.2-3 2.5-7.7 5.3-2.3 2.1-3 3.5-2 2-5 4-2 0.9-1 0.1-2-0.2-8-2.4-5-0.6-2-0.6-2-1.5-3-3-1.5-1.3-3.5-2.3-2-0.7-2 0.2-3.4 0.8-6.6 2.5-1 0.1-2-0.9zM438.2 227.6l0.3-0.4 59 0 0 39-2-0.2-4-1-3-1-2-1-6-3.9-7.8-6.5-2.2-1.2-5.6-1.8-12.4-2.8-2-0.6-2-0.9-1-0.9-1.4-1.8-1.9-3-5.1-9-0.9-2z"/>
<path fill="#014d3d" d="M310.5 245.4l0-18.1 75 0.1 0.6 0.2 0.1 1-0.5 1-4.2 5.1-3 2.5-7.8 5.4-2.2 2-3 3.5-2 2-5 4-2 0.9-1 0.1-2-0.2-7.5-2.3-4.5-0.6-3-0.8-2-1.4-3-3.1-1.4-1.1-3.6-2.4-2-0.8-2 0.2-3.8 1-6.2 2.4-1 0.1-2-0.9zM438.3 227.6l0.2-0.2 59-0.1 0 38.7-2-0.1-4-1-3-1.1-2-0.9-6-3.9-7.6-6.4-2.4-1.3-5.1-1.7-14.9-3.5-2-0.9-1-0.9-1.4-1.7-6.9-12-1-2z"/>
<path fill="#014636" d="M310.5 245.3l0-17.8 74 0 1.2 0.1 0.4 1-0.5 1-2.1 2.7-3 3.2-2 1.6-8 5.5-2 1.9-3 3.5-2 2-5 3.9-2 0.9-1 0.2-2-0.3-7-2.1-5-0.7-3-0.8-2-1.4-4.2-4.1-3.8-2.6-1-0.4-1-0.3-2 0.2-4 1-6 2.3-1 0.2-2-0.9zM438.4 227.6l1.1-0.1 58 0 0 38.4-2-0.2-3-0.6-3-1-3-1.4-7-4.5-6.5-5.6-2.5-1.4-5-1.7-14-3.3-3-1.1-1-0.9-1.3-1.6-7-12-0.9-2z"/>
<path d="M452.6 223.6l3.9 15.1 2 7.1 1.2 3.8 2 5 1.8 3.4 2 4.3 1 1.4 2 2.1 1 0.7 1 0.4 2 2.2 1 0.6 1 0.3 2 1.7 2 1.4 1 1 1 0.3 1-0.4 1-0.1 1.3 0.7 1.7 0.6 2 1.2 2 0.3 2 1.7 1 0 2-0.1 2-0.8 1 0.4M343.8 223.6l1.7 6.4 2 9.2 2.3 15.4 0.6 3 0.4 1 0.7 1 2 2.1 1 0.7 1-0.2 2-0.8 1-0.7 1-1.2 1-2.5 2.8-20.4 2.2-13M441.9 223.6l3.1 14 2.4 9 3.2 8 2.9 5.8 1 1.4 2 1.3 2 2.2 1 0.6 2 1.6 2 1.1 2.2 3 2.8 1.4 2 0.3 1 0.6 1 1 1 0.5 1 0 1 0.5 1 0.9 2 1.2 1 0.9 1 0.2 1-0.5 1-0.3 2 0.8 1 0.2 2 1.1 2 0.1 2 1.6 3-0.2 2-0.9 1 0.4M430.4 223.6l2.1 10.4 1.9 6.6 1.1 3 2 3.7 2 4.4 1 1.5 2 2.5 1 1 1 0.7 2 2.4 1 0.7 1 0.3 1 0.8 4.1 5 0.9 0.8 2 0.4 2 1.6 1 0.3 2 1.3 2 0.8 2 2.6 3 1.3 2 0.1 1 0.6 1 0.9 1 0.4 1 0 1 0.5 1 0.8 2 1.1 1 0.8 1 0.2 1-0.6 1-0.2 2 0.7 1 0.2 2 1 2 0 2 1.7 3-0.3 2-0.8 1 0.3M310.5 256.6l1-1 1-0.3 1 0.4 2 0.2 1 0.5 1 0.2 1-0.3 1 0 1 0.7 1 0.3 1-0.4 2-0.2 1-0.4 1 0 2 2.1 2 0.8 2 1.4 1 0.3 2 1.3 1-0.2 1-0.4 1 0.3 1 0.7 2 1.2 1 0.9 1 0.3 1-0.3 1 0 1 0.5 1 0.3 1-0.2 2 0.2 1-0.2 1 0.1 2 1.5 3-0.8 1-0.5 1-0.8 2-0.4 1-0.9 1-1.3 2-1.4 1.1-1.2 1.4-2 0.8-2 0.7-2.4 1-4.8 4.4-24.8M428 223.6l3.2 17 1.1 5 1.2 4 1 2.6 1 1.6 2 2 2 3.5 1 1.1 2.8 2.2 1.2 0.5 2 1.7 1 0.4 1-0.1 1 0.6 3 2.9 1 1.2 1 0.7 1-0.1 1 0.1 2 1.4 1 0.2 2 1.2 2 0.6 2 2.5 1 0.5 2 0.6 2 0 1 0.6 1 0.9 1 0.3 1-0.1 1 0.5 1 0.8 2 1.1 1 0.8 1 0.2 1-0.7 1-0.2 2 0.6 1 0.2 2 1 2 0 2 1.6 3-0.3 2-0.8 1 0.4M310.5 261l1-1 1-0.3 1 0.3 2 0.2 1 0.5 1 0.2 1-0.4 1 0 1 0.6 1 0.3 1-0.4 2-0.4 1-0.5 1 0 2 2 2 0.6 1.4 0.9 1.6 0.5 2 1.1 1-0.2 1-0.6 1 0.2 3 1.8 1 0.8 1 0.2 1-0.4 1-0.1 1 0.5 1 0.2 1-0.3 2 0 1-0.3 1 0 2 1.5 3-0.8 2-1.2 1-0.2 1 0.1 1-0.7 1-1 1-0.4 1-0.1 3-0.7 1-0.9 3-5.5 4-9 4-13 2.6-11.5M425.3 223.6l1.7 9 1.5 6.9 2.7 9.1 1.4 4 1.8 4 1.1 2 2 1.6 2 3.3 1 0.9 3 1.8 1 0.3 1 0.6 1 0.9 1 0.2 1-0.1 1 0.4 3 2.5 1 1.1 1 0.6 1-0.2 1 0.1 2 1.2 1 0.2 2 1.1 1 0.1 1 0.4 2 2.4 1 0.5 2 0.5 2-0.1 1 0.5 1 0.9 1 0.3 1-0.1 1 0.5 1 0.7 2 1.1 1 0.8 1 0.1 1-0.6 1-0.3 2 0.7 1 0.1 2 1 2 0 2 1.6 3-0.4 2-0.8 1 0.4M310.5 263.3l1-1 1-0.3 1 0.2 2 0.2 1 0.5 1 0.1 1-0.4 1 0 1 0.6 1 0.3 1-0.4 2-0.5 1-0.5 1 0 2 1.9 2 0.6 1.9 1 1.1 0.2 2 1 1-0.2 1-0.6 1 0.2 3 1.6 1 0.8 1 0.2 1-0.4 1-0.1 1 0.4 1 0.2 1-0.3 2-0.1 1-0.4 1 0 2 1.5 3-0.8 2-1.2 1-0.1 1 0.1 2-1.6 1-0.2 1 0.1 2-0.2 1 0.1 1-0.7 2-3 1.3-1.5 3.7-5.7 2-4.2 2-3.3 5-13.3 2.3-4.5 2.3-6M422.5 223.6l2.6 12 2.4 9 1 3.1 4 9.4 3 4.8 2 1.6 2 3 1 0.9 2 1.1 1 0.5 1 0.1 1 0.6 1 0.8 1 0.2 1-0.3 1 0.4 3 2.3 1 1 1 0.6 1-0.3 1 0 2 1.1 1 0.2 2 0.9 2 0.5 2 2.4 1 0.4 2 0.4 2-0.1 1 0.5 1 0.8 1 0.3 1-0.1 1 0.4 1 0.8 2 1 1 0.8 1 0.1 1-0.6 1-0.4 2 0.7 1 0.1 2 1 2 0 2 1.5 3-0.3 2-0.9 1 0.4M310.5 265.1l1-1.1 1-0.3 1 0.3 2 0.2 1 0.4 1 0.1 1-0.4 1 0 1 0.6 1 0.2 2-0.8 1-0.2 1-0.4 1-0.1 2 1.9 2 0.5 1.1 0.6 0.9 0.4 1 0.1 2 1 1-0.3 1-0.6 1 0.2 3 1.6 1 0.7 1 0.2 1-0.5 1-0.1 1 0.5 1 0.1 1-0.3 2-0.2 1-0.3 1 0 2 1.5 3-0.9 2-1.2 1-0.1 1 0.1 2-1.4 1-0.2 1 0.2 2 0 1 0.2 1-0.6 2-2.6 1.6-1.5 3.4-4.2 2-3.4 2-2.2 5-10.5 1-1.3 1-0.9 2-2.7 1.8-1.8 0.7-1 1.1-2 1.3-3 1.6-6M417.9 223.6l1.1 5 1.6 5 2.9 6.2 5 13 4 8 3 3.8 2 1.6 2 3 1 0.7 2 1.1 1 0.4 1 0 1 0.5 1 0.8 1 0.1 1-0.3 1 0.3 3 2.1 1 1.1 1 0.4 1-0.3 1 0 2 1 1 0.1 2 0.9 2 0.4 2 2.3 1 0.4 2 0.4 2-0.2 1 0.4 1 0.9 1 0.2 1-0.1 1 0.4 1 0.7 2 1 1 0.8 1 0.1 1-0.6 1-0.4 2 0.7 1 0.1 2 0.9 2 0 2 1.5 3-0.3 2-0.8 1 0.3M310.5 266.8l1-1.1 1-0.3 1 0.2 2 0.2 1 0.4 1 0.1 1-0.5 1 0 1 0.6 1 0.1 2-0.8 1-0.2 1-0.4 1-0.2 2 1.9 2 0.4 1 0.6 1 0.4 1 0.1 2 0.9 1-0.3 1-0.6 1 0.1 3 1.6 1 0.7 1 0.2 1-0.5 1-0.1 1 0.4 1 0.1 1-0.3 2-0.2 1-0.4 1 0 2 1.5 3-0.9 2-1.1 1-0.1 1 0.1 2-1.4 1-0.1 4 0.6 1-0.4 2-2.4 1.5-1.1 1.5-1.7 2-1.9 2-2.9 2-1.6 5-9.1 1-1 1-0.6 2-2.3 2-1.2 3-2.4 1-1.3 2.8-5 0.9-2 1-3 1.1-5M310.5 268.7l1-1.1 1-0.4 1 0.2 2 0.1 1 0.4 1 0 1-0.5 1-0.1 1 0.6 1 0.1 1-0.5 2-0.6 1-0.5 1-0.1 2 1.8 2 0.3 1 0.6 1 0.3 1 0.1 2 0.9 1-0.3 1-0.7 1 0.1 3 1.6 1 0.7 1 0.2 1-0.6 1-0.1 1 0.4 1 0.1 1-0.4 2-0.1 1-0.4 1-0.1 2 1.5 3-0.9 2-1.1 1-0.1 1 0.1 2-1.3 1-0.1 1 0.3 2 0.2 1 0.4 1-0.5 2-2.1 1.1-0.5 3.6-3 2.3-2.8 2-1.2 5-8.1 1-0.8 1-0.5 2-2.3 5-2.7 1-1.1 1-1.6 1-1.1 3-1.3 2-0.5 1-0.7 1-0.4 2 0.7 3-1.3 2-1.2 1 0.4 1 0.7 2 0.4 3 2.5 2.6 2.9 1.4 1 1 1.3 3 6.2 2 4.7 2 3.3 2 3.9 3 3.2 2 1.6 2 2.9 1 0.7 3 1.2 1 0.1 1 0.4 1 0.7 1 0.1 1-0.4 1 0.3 3 2 1 0.9 1 0.5 1-0.4 1 0 2 0.9 1 0.1 2 0.8 1 0.1 1 0.2 2 2.3 1 0.4 2 0.3 2-0.3 1 0.5 1 0.8 1 0.2 1-0.2 1 0.4 1 0.7 2 1 1 0.8 1 0.1 1-0.7 1-0.3 2 0.6 1 0.1 2 0.9 2 0 2 1.5 3-0.4 2-0.8 1 0.4M310.5 271.3l1-1.1 1-0.5 1 0.1 2-0.2 1 0.3 1 0 1-0.6 1-0.2 1 0.5 1 0.1 4-1.7 1-0.2 2 1.7 2 0.3 2 0.8 1 0 2 0.8 1-0.3 1-0.7 1 0.1 3 1.5 1 0.7 1 0.1 1-0.5 1-0.2 1 0.5 1 0 1-0.3 2-0.2 1-0.5 1 0 2 1.5 3-0.9 2-1.2 1-0.1 1 0.1 2-1.3 1 0 4 0.9 1-0.4 1-1.1 1-0.9 1.5-0.6 1.5-1.2 2-1.3 2-2.1 1-0.2 1-0.5 3-4 2-3.1 1-0.7 1-0.4 2-2.3 4-2.3 1-0.4 1-1.1 1-1.6 1-1 3-1.1 2-0.1 1-0.6 1-0.2 1 0.4 1 0.3 2-0.8 3-0.9 1 0.8 1 1 1 0.3 1 0.1 3 1.7 1 0.8 1 1.2 1 0.7 1 0.3 1 1.1 3 5.6 2 4.3 2 3 2 3.7 3 3 2 1.5 2 2.8 1 0.7 3 1 1-0.1 1 0.4 1 0.7 1 0 1-0.4 1 0.2 3 1.9 1 0.9 1 0.4 1-0.3 1-0.2 2 0.9 1 0.1 2 0.7 2 0.2 2 2.3 1 0.3 2 0.3 2-0.4 1 0.4 1 0.9 1 0.1 1-0.1 1 0.3 1 0.7 2 1 1 0.7 1 0.1 1-0.7 1-0.3 2 0.6 1 0.1 2 0.9 2-0.1 2 1.5 3-0.4 2-0.8 1 0.4M310.5 305.1l3.4-29.5 0.4-1 1.2-0.8 2-0.6 1-0.9 1-0.5 1 0.3 1-0.1 1-0.6 2-0.9 1-0.6 1-0.2 2 1.6 2 0.1 2 0.7 1 0 2 0.7 1-0.3 1-0.7 1 0 3 1.4 1 0.7 1 0.1 1-0.6 1-0.1 1 0.3 1 0.1 1-0.4 2-0.2 1-0.4 1-0.1 2 1.5 3-0.9 2-1.2 1-0.1 1 0.1 2-1.3 1-0.1 1 0.4 2 0.3 1 0.3 1-0.4 1-1.1 1-0.8 1-0.2 1-0.5 1-0.8 2-1.1 2-1.9 1-0.1 1-0.3 3-3.6 2-2.9 1-0.6 1-0.3 2-2.1 5-2.4 1-1.1 1-1.7 1-1.1 3-1.3 2 0 1-0.7 1-0.3 2 0.7 2-0.9 2-0.4 1-0.1 1 0.9 1 1.1 1 0.5 1 0.2 2 1.5 1 0.5 1 0.9 1 1.3 1 0.6 1 0.3 1 1 3 5.4 2 4.2 2 2.8 2 3.7 3 2.8 2 1.2 2 2.8 1 0.5 1 0.2 1 0.4 1 0.2 1-0.1 1 0.3 1 0.6 1 0 1-0.4 1 0.1 3 1.8 1 0.9 1 0.4 1-0.5 1-0.2 2 0.9 1 0 2 0.7 1-0.1 1 0.2 2 2.2 1 0.3 2 0.2 2-0.4 1 0.4 1 0.7 1 0.2 1-0.2 4 1.9 1 0.8 1 0.1 1-0.7 1-0.4 2 0.6 1 0.1 2 0.9 2-0.2 2 1.6 3-0.4 2-0.9 1 0.4M315 387.6l1.5-15.1 1-12.2 5.9-84.7 2.2-2 0.9-0.4 2 1.1 2-0.2 2 0.4 1-0.1 2 0.5 1-0.5 1-0.8 1 0 1 0.6 2 0.7 1 0.6 1 0.1 1-0.6 1-0.2 1 0.3 1 0.1 1-0.5 2-0.3 1-0.4 1-0.1 2 1.4 3-0.9 2-1.2 1-0.1 1 0.1 2-1.3 1-0.1 1 0.4 2 0.3 1 0.3 1-0.3 1-1.1 1-0.7 1-0.2 1-0.4 1-0.7 2-0.8 1-1 1-0.6 1 0 1-0.2 3-3.2 2-2.7 1-0.6 1-0.3 2-2 5-2.4 1-1.1 1-1.7 1-1.1 3-1.4 2-0.1 1-0.7 1-0.4 2 0.6 2-0.9 2-0.3 1 0 2 2.2 1 0.6 1 0.4 3 2.5 2 2.4 1 0.8 1 0.2 1 1 3 5.5 2 4.2 2 2.6 2 3.7 3 2.7 2 0.9 2 2.7 1 0.4 1 0.1 1 0.3 1 0.1 1-0.2 1 0.3 1 0.6 1-0.1 1-0.5 1 0.2 3 1.6 1 0.8 1 0.4 1-0.5 1-0.2 2 0.7 1 0 2 0.6 2 0 2 2.1 1 0.3 2 0.1 2-0.5 1 0.4 1 0.7 1 0.2 1-0.2 1 0.3 1 0.6 2 0.9 1 0.7 1 0.1 1-0.7 1-0.4 2 0.5 1 0.1 2 0.9 2-0.2 2 1.5 3-0.4 2-0.8 1 0.4M330.6 387.6l4.9-38.3 3-25.3 5.5-44.4 0.3-1 1.2-0.6 1 0.1 1-0.2 1-0.6 2-0.5 1-0.5 1-0.1 2 1.2 1-0.2 1-0.6 1-0.2 2-1.3 1-0.1 1 0.1 2-1.4 1 0 1 0.3 2 0.3 1 0.4 1-0.3 1-1.1 1-0.6 1 0 1-0.3 1-0.5 2-0.5 1-0.8 1-0.5 1 0.3 1 0 3-2.8 2-2.5 1-0.6 1-0.2 2-2.1 2-0.8 1.2-0.8 1.8-0.8 1-1.2 1-1.8 1-1.2 3-1.5 2-0.3 1-0.7 1-0.4 2 0.5 2-0.9 2-0.3 1 0.1 2 2.5 2 1.2 3 3.4 2 3 1 0.8 1 0.4 1 1.1 3 5.7 2 4.3 2 2.7 2 3.6 3 2.7 2 0.6 2 2.4 1 0.3 1 0 1 0.1 1 0 1-0.2 1 0.2 1 0.5 1-0.1 1-0.6 1 0.1 3 1.5 1 0.8 1 0.3 1-0.6 1-0.2 2 0.6 1-0.1 2 0.5 2 0 2 2 1 0.2 2 0 2-0.5 1 0.3 1 0.7 1 0.1 1-0.2 1 0.3 1 0.6 1.4 0.5 1.6 1 1 0.1 2-1.2 1 0.4 2 0.3 1 0.3 1 0.6 2-0.1 1.1 0.6 0.9 0.8 3-0.3 0.8-0.5 1.2-0.3 1 0.2M370.4 387.6l3.5-21 3.1-16 3.1-15 6.4-29.6 1-4.2 3.4-12.2 1.6-6.8 2-4.9 2-3.5 0.6-0.8 0.4-1 1.5-2 0.5-1 2.8-3 3.4-3 0.8-0.2 1-0.6 1.1-0.2 2.1 1 3.8 3 1 1 0.4 1 1.6 1.9 1 1.6 0.1 0.5 0.9 1 0.1 1 0.9 1 0.1 1 0.3 1 1.6 2.7 1 1 0.7 0.3 2.3 1.6 0.1 0.4 0.9 0.9 0.3 1.1 2.7 3 0.1 1 2.9 2.9 0.7 0.1 1.3 1 3 0 1 1 2-0.2 1.2-0.8 1.8-0.1 1.2 0.1 0.8 0.7 1.1 0.3 0.9 0.7 1.1 0.3 0.9 0.8 0.9 0.2 2.1 1.5 1.2 0.5 0.8 0.6 1.1 0.4 0.9 0.7 0.8 0.3 4.2 2.5 1 0.5 10 6.3 6 2.9 4.6 1.8 3.8 1 5.2 1 4.4 0.2M423.1 387.6l2.1-5 2.9-6 3.1-6 4-7 8.8-14 7.5-10.4 3-5.1 1-0.9 1-0.1 1 0.3 3 1 2 0.5 13-0.1 2-0.5 6-2.7 3.5-2 1.5-0.7 5-1.4 2-0.4 2-0.1" fill="none" stroke="#3a3a3a" stroke-width="0.42" stroke-opacity="0.75" stroke-linejoin="round"/>
<path d="M311.8 385.5l0-102.5 0.2 0 7.1 2.6 5.7 1.5 15.6 3.2 19.8 4.8 25.6 5 5.6 1.3 4.3 1.2 5.7 2.3 2.8 0.8 5 1 12 1.8 3.6 1.1 3.5 1.7 1.4 0.8 2.2 1.7 7.8 8.1 5.6 6.8 9.3 12.3 1.4 1.7 1.4 1.2 2.1 1.4 1.4 0.9 2.2 0.7 2.8 0.2 8.5 0.4 1.4 0.2 2.2 0.5 1.4 0.5 0.7 0.5 1.4 1.1 1.4 1.5 1.5 2 2.1 3.9 1.4 2.9 2.1 4.9 1.4 3.6 1.5 4.2 2.8 9.6 0.2 0 0 2.6z" fill="#808080"/>
</g>
<text x="38.1" y="193.4" text-anchor="middle">0</text><text x="95.1" y="193.4" text-anchor="middle">20</text><text x="152" y="193.4" text-anchor="middle">40</text><text x="209" y="193.4" text-anchor="middle">60</text><text x="35.4" y="54.8" text-anchor="end">-50</text><text x="35.4" y="85.6" text-anchor="end">-100</text><text x="35.4" y="116.4" text-anchor="end">-150</text><text x="35.4" y="147.2" text-anchor="end">-200</text><text x="35.4" y="178" text-anchor="end">-250</text><path d="M38.1 183.3v-1.8M38.1 23.1v1.8M95.1 183.3v-1.8M95.1 23.1v1.8M152 183.3v-1.8M152 23.1v1.8M209 183.3v-1.8M209 23.1v1.8M38.1 52.1h1.8M221.8 52.1h-1.8M38.1 82.9h1.8M221.8 82.9h-1.8M38.1 113.7h1.8M221.8 113.7h-1.8M38.1 144.5h1.8M221.8 144.5h-1.8M38.1 175.3h1.8M221.8 175.3h-1.8" stroke="#333" stroke-width="0.5" fill="none"/><rect x="38.1" y="23.1" width="183.7" height="160.2" fill="none" stroke="#9a9a9a" stroke-width="0.6"/><text x="130" y="203.8" text-anchor="middle" font-size="8.3">Distance (km)</text><text transform="translate(12.4 103.2) rotate(-90)" text-anchor="middle" font-size="8.3">Depth (m)</text><text x="48.4" y="16.7" font-size="8.6">Potential Temperature (<tspan font-size="5" dy="-3.8">°</tspan><tspan dy="3.8">C) and </tspan><tspan font-family="'DejaVu Serif','Liberation Serif',serif" font-style="italic" font-weight="normal" font-size="7.6" fill="#333">σ</tspan><tspan font-size="6.8" dy="4.4" dx="0.4">T</tspan></text><text x="8.2" y="16.2" font-family="'Liberation Serif',serif" font-weight="normal" font-size="10.2" fill="#222">a)</text>
<g font-weight="normal" font-size="6.6" fill="#111"><text x="78" y="50.4">24.8</text><text x="70" y="65.4">25.2</text><text x="83" y="78.4">25.8</text><text x="199.4" y="60.4">24.8</text><text x="202" y="109.9">25.9</text><text x="204" y="133.9">26</text></g><path d="M75.8 51.6h2.4m-1.2 -1.2v2.4M67.8 66.6h2.4m-1.2 -1.2v2.4M80.8 79.6h2.4m-1.2 -1.2v2.4M197.2 61.6h2.4m-1.2 -1.2v2.4M199.8 111.1h2.4m-1.2 -1.2v2.4M201.8 135.1h2.4m-1.2 -1.2v2.4" stroke="#222" stroke-width="0.4" fill="none"/>
<linearGradient id="ga" x1="0" y1="0" x2="0" y2="1"><stop offset="0%" stop-color="#f7fcf0"/><stop offset="1.6%" stop-color="#f5fbee"/><stop offset="3.1%" stop-color="#f2faeb"/><stop offset="4.7%" stop-color="#eff9e9"/><stop offset="6.2%" stop-color="#ecf8e6"/><stop offset="7.8%" stop-color="#e9f7e3"/><stop offset="9.4%" stop-color="#e6f6e1"/><stop offset="10.9%" stop-color="#e4f4de"/><stop offset="12.5%" stop-color="#e1f3dc"/><stop offset="14.1%" stop-color="#def2d9"/><stop offset="15.6%" stop-color="#dcf1d6"/><stop offset="17.2%" stop-color="#d9f0d3"/><stop offset="18.8%" stop-color="#d7efd1"/><stop offset="20.3%" stop-color="#d4eece"/><stop offset="21.9%" stop-color="#d1edcb"/><stop offset="23.4%" stop-color="#cfecc8"/><stop offset="25%" stop-color="#ccebc6"/><stop offset="26.6%" stop-color="#c8eac3"/><stop offset="28.1%" stop-color="#c4e8c1"/><stop offset="29.7%" stop-color="#bfe6bf"/><stop offset="31.2%" stop-color="#bbe4bd"/><stop offset="32.8%" stop-color="#b6e3bb"/><stop offset="34.4%" stop-color="#b2e1b9"/><stop offset="35.9%" stop-color="#addfb7"/><stop offset="37.5%" stop-color="#a9ddb5"/><stop offset="39.1%" stop-color="#a3dbb7"/><stop offset="40.6%" stop-color="#9ed9b8"/><stop offset="42.2%" stop-color="#98d7ba"/><stop offset="43.8%" stop-color="#92d5bc"/><stop offset="45.3%" stop-color="#8dd3be"/><stop offset="46.9%" stop-color="#87d1c0"/><stop offset="48.4%" stop-color="#81cec2"/><stop offset="50%" stop-color="#7cccc4"/><stop offset="51.6%" stop-color="#76c9c6"/><stop offset="53.1%" stop-color="#70c6c8"/><stop offset="54.7%" stop-color="#6bc3c9"/><stop offset="56.2%" stop-color="#65c0cb"/><stop offset="57.8%" stop-color="#5fbdcd"/><stop offset="59.4%" stop-color="#5abacf"/><stop offset="60.9%" stop-color="#54b6d1"/><stop offset="62.5%" stop-color="#4fb3d3"/><stop offset="64.1%" stop-color="#4aafd1"/><stop offset="65.6%" stop-color="#46aace"/><stop offset="67.2%" stop-color="#41a5cb"/><stop offset="68.8%" stop-color="#3da0c9"/><stop offset="70.3%" stop-color="#389bc6"/><stop offset="71.9%" stop-color="#3496c3"/><stop offset="73.4%" stop-color="#3091c1"/><stop offset="75%" stop-color="#2b8cbe"/><stop offset="76.6%" stop-color="#2788bc"/><stop offset="78.1%" stop-color="#2283ba"/><stop offset="79.7%" stop-color="#1e7fb7"/><stop offset="81.2%" stop-color="#1a7ab5"/><stop offset="82.8%" stop-color="#1576b3"/><stop offset="84.4%" stop-color="#1171b1"/><stop offset="85.9%" stop-color="#0d6dae"/><stop offset="87.5%" stop-color="#0868ac"/><stop offset="89.1%" stop-color="#0863a7"/><stop offset="90.6%" stop-color="#085ea1"/><stop offset="92.2%" stop-color="#08599c"/><stop offset="93.8%" stop-color="#085497"/><stop offset="95.3%" stop-color="#084f91"/><stop offset="96.9%" stop-color="#084a8c"/><stop offset="98.4%" stop-color="#084586"/><stop offset="100%" stop-color="#084081"/></linearGradient><rect x="227" y="22.9" width="10.5" height="160.1" fill="url(#ga)" stroke="#777" stroke-width="0.5"/><text x="240.1" y="185.8">15</text><text x="240.1" y="168">16</text><text x="240.1" y="150.2">17</text><text x="240.1" y="132.4">18</text><text x="240.1" y="114.6">19</text><text x="240.1" y="96.8">20</text><text x="240.1" y="79">21</text><text x="240.1" y="61.2">22</text><text x="240.1" y="43.4">23</text><text x="240.1" y="25.7">24</text><path d="M237.5 183h-1.6M237.5 165.2h-1.6M237.5 147.4h-1.6M237.5 129.6h-1.6M237.5 111.8h-1.6M237.5 94.1h-1.6M237.5 76.3h-1.6M237.5 58.5h-1.6M237.5 40.7h-1.6M237.5 22.9h-1.6" stroke="#444" stroke-width="0.5" fill="none"/>
<text x="309.3" y="193.3" text-anchor="middle">0</text><text x="366.3" y="193.3" text-anchor="middle">20</text><text x="423.3" y="193.3" text-anchor="middle">40</text><text x="480.4" y="193.3" text-anchor="middle">60</text><text x="306.6" y="52.7" text-anchor="end">-50</text><text x="306.6" y="83.9" text-anchor="end">-100</text><text x="306.6" y="115.1" text-anchor="end">-150</text><text x="306.6" y="146.3" text-anchor="end">-200</text><text x="306.6" y="177.5" text-anchor="end">-250</text><path d="M309.3 182.9v-1.8M309.3 18.8v1.8M366.3 182.9v-1.8M366.3 18.8v1.8M423.3 182.9v-1.8M423.3 18.8v1.8M480.4 182.9v-1.8M480.4 18.8v1.8M309.3 50h1.8M493.2 50h-1.8M309.3 81.2h1.8M493.2 81.2h-1.8M309.3 112.4h1.8M493.2 112.4h-1.8M309.3 143.6h1.8M493.2 143.6h-1.8M309.3 174.8h1.8M493.2 174.8h-1.8" stroke="#333" stroke-width="0.5" fill="none"/><rect x="309.3" y="18.8" width="183.9" height="164.1" fill="none" stroke="#9a9a9a" stroke-width="0.6"/><text x="401.2" y="203.4" text-anchor="middle" font-size="8.3">Distance (km)</text><text transform="translate(283.6 100.9) rotate(-90)" text-anchor="middle" font-size="8.3">Depth (m)</text><text x="349.4" y="17.0" font-size="8.6">Zonal Velocity (m s<tspan font-size="6.8" dy="-3.7">-1</tspan><tspan dy="3.7">)</tspan></text><text x="279.2" y="15.2" font-family="'Liberation Serif',serif" font-weight="normal" font-size="10.2" fill="#222">b)</text>
<linearGradient id="gb" x1="0" y1="0" x2="0" y2="1"><stop offset="0%" stop-color="#67001f"/><stop offset="1.6%" stop-color="#700320"/><stop offset="3.1%" stop-color="#7c0722"/><stop offset="4.7%" stop-color="#870a24"/><stop offset="6.2%" stop-color="#930e26"/><stop offset="7.8%" stop-color="#9f1228"/><stop offset="9.4%" stop-color="#ab162a"/><stop offset="10.9%" stop-color="#b41c2d"/><stop offset="12.5%" stop-color="#ba2832"/><stop offset="14.1%" stop-color="#bf3338"/><stop offset="15.6%" stop-color="#c53e3d"/><stop offset="17.2%" stop-color="#cb4942"/><stop offset="18.8%" stop-color="#d05548"/><stop offset="20.3%" stop-color="#d6604d"/><stop offset="21.9%" stop-color="#db6b55"/><stop offset="23.4%" stop-color="#df765e"/><stop offset="25%" stop-color="#e48066"/><stop offset="26.6%" stop-color="#e98b6e"/><stop offset="28.1%" stop-color="#ee9677"/><stop offset="29.7%" stop-color="#f2a17f"/><stop offset="31.2%" stop-color="#f5aa89"/><stop offset="32.8%" stop-color="#f6b394"/><stop offset="34.4%" stop-color="#f8bb9e"/><stop offset="35.9%" stop-color="#f9c4a9"/><stop offset="37.5%" stop-color="#fbccb4"/><stop offset="39.1%" stop-color="#fcd5bf"/><stop offset="40.6%" stop-color="#fddcc9"/><stop offset="42.2%" stop-color="#fce0d0"/><stop offset="43.8%" stop-color="#fbe5d8"/><stop offset="45.3%" stop-color="#fae9df"/><stop offset="46.9%" stop-color="#f9eee7"/><stop offset="48.4%" stop-color="#f8f2ef"/><stop offset="50%" stop-color="#f7f6f6"/><stop offset="51.6%" stop-color="#f2f5f6"/><stop offset="53.1%" stop-color="#ecf2f5"/><stop offset="54.7%" stop-color="#e6eff4"/><stop offset="56.2%" stop-color="#e0ecf3"/><stop offset="57.8%" stop-color="#dae9f2"/><stop offset="59.4%" stop-color="#d4e6f1"/><stop offset="60.9%" stop-color="#cce2ef"/><stop offset="62.5%" stop-color="#c2ddec"/><stop offset="64.1%" stop-color="#b8d8e9"/><stop offset="65.6%" stop-color="#aed3e6"/><stop offset="67.2%" stop-color="#a5cee3"/><stop offset="68.8%" stop-color="#9bc9e0"/><stop offset="70.3%" stop-color="#90c4dd"/><stop offset="71.9%" stop-color="#84bcd9"/><stop offset="73.4%" stop-color="#78b4d5"/><stop offset="75%" stop-color="#6bacd1"/><stop offset="76.6%" stop-color="#5fa5cd"/><stop offset="78.1%" stop-color="#529dc8"/><stop offset="79.7%" stop-color="#4695c4"/><stop offset="81.2%" stop-color="#3f8ec0"/><stop offset="82.8%" stop-color="#3a87bd"/><stop offset="84.4%" stop-color="#3480b9"/><stop offset="85.9%" stop-color="#2f79b5"/><stop offset="87.5%" stop-color="#2a71b2"/><stop offset="89.1%" stop-color="#246aae"/><stop offset="90.6%" stop-color="#1f63a8"/><stop offset="92.2%" stop-color="#1b5a9c"/><stop offset="93.8%" stop-color="#175290"/><stop offset="95.3%" stop-color="#124984"/><stop offset="96.9%" stop-color="#0e4179"/><stop offset="98.4%" stop-color="#09386d"/><stop offset="100%" stop-color="#053061"/></linearGradient><rect x="498.4" y="18.9" width="10.4" height="164" fill="url(#gb)" stroke="#777" stroke-width="0.5"/><text x="511.4" y="173.9">-0.6</text><text x="511.4" y="150.5">-0.4</text><text x="511.4" y="127.1">-0.2</text><text x="511.4" y="103.7">0</text><text x="511.4" y="80.2">0.2</text><text x="511.4" y="56.8">0.4</text><text x="511.4" y="33.4">0.6</text><path d="M508.8 171.2h-1.6M508.8 147.8h-1.6M508.8 124.3h-1.6M508.8 100.9h-1.6M508.8 77.5h-1.6M508.8 54h-1.6M508.8 30.6h-1.6" stroke="#444" stroke-width="0.5" fill="none"/>
<text x="36.1" y="396.2" text-anchor="middle">0</text><text x="94.3" y="396.2" text-anchor="middle">20</text><text x="152.5" y="396.2" text-anchor="middle">40</text><text x="210.7" y="396.2" text-anchor="middle">60</text><text x="33.4" y="260.2" text-anchor="end">-50</text><text x="33.4" y="290.2" text-anchor="end">-100</text><text x="33.4" y="320.2" text-anchor="end">-150</text><text x="33.4" y="350.2" text-anchor="end">-200</text><text x="33.4" y="380.2" text-anchor="end">-250</text><path d="M36.1 385.3v-1.8M36.1 228.7v1.8M94.3 385.3v-1.8M94.3 228.7v1.8M152.5 385.3v-1.8M152.5 228.7v1.8M210.7 385.3v-1.8M210.7 228.7v1.8M36.1 257.5h1.8M223.8 257.5h-1.8M36.1 287.5h1.8M223.8 287.5h-1.8M36.1 317.5h1.8M223.8 317.5h-1.8M36.1 347.5h1.8M223.8 347.5h-1.8M36.1 377.5h1.8M223.8 377.5h-1.8" stroke="#333" stroke-width="0.5" fill="none"/><rect x="36.1" y="228.7" width="187.7" height="156.6" fill="none" stroke="#9a9a9a" stroke-width="0.6"/><text x="130" y="406" text-anchor="middle" font-size="8.3">Distance (km)</text><text transform="translate(10.5 307) rotate(-90)" text-anchor="middle" font-size="8.3">Depth (m)</text><text x="76.2" y="222.8" font-size="8.6">W (<tspan font-weight="normal">×</tspan> 10<tspan font-size="6.8" dy="-3.7">-4</tspan><tspan dy="3.7"> m s</tspan><tspan font-size="6.8" dy="-3.7">-1</tspan><tspan dy="3.7">) and </tspan><tspan font-family="'DejaVu Serif','Liberation Serif',serif" font-style="italic" font-weight="normal" font-size="7.6" fill="#333">σ</tspan><tspan font-size="6.8" dy="4.4" dx="0.4">T</tspan></text><text x="5.6" y="221.2" font-family="'Liberation Serif',serif" font-weight="normal" font-size="10.2" fill="#222">c)</text>
<linearGradient id="gc" x1="0" y1="0" x2="0" y2="1"><stop offset="0%" stop-color="#543005"/><stop offset="1.6%" stop-color="#5b3406"/><stop offset="3.1%" stop-color="#633906"/><stop offset="4.7%" stop-color="#6c3e07"/><stop offset="6.2%" stop-color="#754308"/><stop offset="7.8%" stop-color="#7e4909"/><stop offset="9.4%" stop-color="#874e0a"/><stop offset="10.9%" stop-color="#8f540c"/><stop offset="12.5%" stop-color="#975b12"/><stop offset="14.1%" stop-color="#9f6317"/><stop offset="15.6%" stop-color="#a76a1d"/><stop offset="17.2%" stop-color="#af7222"/><stop offset="18.8%" stop-color="#b77928"/><stop offset="20.3%" stop-color="#bf812d"/><stop offset="21.9%" stop-color="#c48b3a"/><stop offset="23.4%" stop-color="#c99546"/><stop offset="25%" stop-color="#cea053"/><stop offset="26.6%" stop-color="#d3aa5f"/><stop offset="28.1%" stop-color="#d8b46c"/><stop offset="29.7%" stop-color="#ddbe78"/><stop offset="31.2%" stop-color="#e1c684"/><stop offset="32.8%" stop-color="#e5cc8f"/><stop offset="34.4%" stop-color="#e8d29a"/><stop offset="35.9%" stop-color="#ecd8a5"/><stop offset="37.5%" stop-color="#f0deb0"/><stop offset="39.1%" stop-color="#f3e4bb"/><stop offset="40.6%" stop-color="#f6e9c5"/><stop offset="42.2%" stop-color="#f6ebcd"/><stop offset="43.8%" stop-color="#f6edd5"/><stop offset="45.3%" stop-color="#f5efdc"/><stop offset="46.9%" stop-color="#f5f1e4"/><stop offset="48.4%" stop-color="#f5f3ec"/><stop offset="50%" stop-color="#f5f5f4"/><stop offset="51.6%" stop-color="#eff3f3"/><stop offset="53.1%" stop-color="#e7f2f0"/><stop offset="54.7%" stop-color="#e0f0ee"/><stop offset="56.2%" stop-color="#d9eeeb"/><stop offset="57.8%" stop-color="#d2ede9"/><stop offset="59.4%" stop-color="#cbebe6"/><stop offset="60.9%" stop-color="#c1e8e2"/><stop offset="62.5%" stop-color="#b6e3dd"/><stop offset="64.1%" stop-color="#abdfd7"/><stop offset="65.6%" stop-color="#a0dad1"/><stop offset="67.2%" stop-color="#95d6cc"/><stop offset="68.8%" stop-color="#8ad1c6"/><stop offset="70.3%" stop-color="#7fccc0"/><stop offset="71.9%" stop-color="#73c3b8"/><stop offset="73.4%" stop-color="#67bbb0"/><stop offset="75%" stop-color="#5bb3a8"/><stop offset="76.6%" stop-color="#4faaa1"/><stop offset="78.1%" stop-color="#44a299"/><stop offset="79.7%" stop-color="#389991"/><stop offset="81.2%" stop-color="#2f9189"/><stop offset="82.8%" stop-color="#278a82"/><stop offset="84.4%" stop-color="#1f827a"/><stop offset="85.9%" stop-color="#167a72"/><stop offset="87.5%" stop-color="#0e726a"/><stop offset="89.1%" stop-color="#066b63"/><stop offset="90.6%" stop-color="#01645b"/><stop offset="92.2%" stop-color="#015d54"/><stop offset="93.8%" stop-color="#01564d"/><stop offset="95.3%" stop-color="#005046"/><stop offset="96.9%" stop-color="#00493e"/><stop offset="98.4%" stop-color="#004337"/><stop offset="100%" stop-color="#003c30"/></linearGradient><rect x="229" y="228.5" width="10.5" height="156.8" fill="url(#gc)" stroke="#777" stroke-width="0.5"/><text x="242.1" y="388.1">-10</text><text x="242.1" y="372.4">-8</text><text x="242.1" y="356.7">-6</text><text x="242.1" y="341">-4</text><text x="242.1" y="325.3">-2</text><text x="242.1" y="309.6">0</text><text x="242.1" y="294">2</text><text x="242.1" y="278.3">4</text><text x="242.1" y="262.6">6</text><text x="242.1" y="246.9">8</text><text x="242.1" y="231.2">10</text><path d="M239.5 385.3h-1.6M239.5 369.6h-1.6M239.5 353.9h-1.6M239.5 338.3h-1.6M239.5 322.6h-1.6M239.5 306.9h-1.6M239.5 291.2h-1.6M239.5 275.5h-1.6M239.5 259.9h-1.6M239.5 244.2h-1.6M239.5 228.5h-1.6" stroke="#444" stroke-width="0.5" fill="none"/>
<text x="312" y="396.2" text-anchor="middle">0</text><text x="369" y="396.2" text-anchor="middle">20</text><text x="425.9" y="396.2" text-anchor="middle">40</text><text x="482.9" y="396.2" text-anchor="middle">60</text><text x="309.3" y="227.8" text-anchor="end">0</text><text x="309.3" y="257.8" text-anchor="end">-50</text><text x="309.3" y="287.8" text-anchor="end">-100</text><text x="309.3" y="317.8" text-anchor="end">-150</text><text x="309.3" y="347.8" text-anchor="end">-200</text><text x="309.3" y="377.8" text-anchor="end">-250</text><path d="M312 385.3v-1.8M312 225.1v1.8M369 385.3v-1.8M369 225.1v1.8M425.9 385.3v-1.8M425.9 225.1v1.8M482.9 385.3v-1.8M482.9 225.1v1.8M312 225.1h1.8M495.7 225.1h-1.8M312 255.1h1.8M495.7 255.1h-1.8M312 285.1h1.8M495.7 285.1h-1.8M312 315.1h1.8M495.7 315.1h-1.8M312 345.1h1.8M495.7 345.1h-1.8M312 375.1h1.8M495.7 375.1h-1.8" stroke="#333" stroke-width="0.5" fill="none"/><rect x="312" y="225.1" width="183.7" height="160.2" fill="none" stroke="#9a9a9a" stroke-width="0.6"/><text x="403.9" y="406" text-anchor="middle" font-size="8.3">Distance (km)</text><text transform="translate(285.5 305.2) rotate(-90)" text-anchor="middle" font-size="8.3">Depth (m)</text><text x="367.2" y="219.2" font-size="8.6"><tspan font-family="'DejaVu Serif','Liberation Serif',serif" font-style="italic" font-weight="normal" font-size="7.6" fill="#333">κ</tspan><tspan font-family="'DejaVu Serif','Liberation Serif',serif" font-style="italic" font-weight="normal" font-size="5.4" dy="2.6" dx="0.3" fill="#333">ν</tspan><tspan dy="-2.6" font-weight="normal" fill="#333"> × </tspan>10<tspan font-size="6.8" dy="-3.7">-3</tspan><tspan dy="3.7"> m</tspan><tspan font-size="6.8" dy="-3.7">2</tspan><tspan dy="3.7"> s</tspan><tspan font-size="6.8" dy="-3.7">-1</tspan></text><text x="282" y="218" font-family="'Liberation Serif',serif" font-weight="normal" font-size="10.2" fill="#222">d)</text>
<linearGradient id="gd" x1="0" y1="0" x2="0" y2="1"><stop offset="0%" stop-color="#014636"/><stop offset="1.6%" stop-color="#014a39"/><stop offset="3.1%" stop-color="#014e3e"/><stop offset="4.7%" stop-color="#015342"/><stop offset="6.2%" stop-color="#015846"/><stop offset="7.8%" stop-color="#015d4b"/><stop offset="9.4%" stop-color="#01614f"/><stop offset="10.9%" stop-color="#016654"/><stop offset="12.5%" stop-color="#016b58"/><stop offset="14.1%" stop-color="#016e5e"/><stop offset="15.6%" stop-color="#017164"/><stop offset="17.2%" stop-color="#01736a"/><stop offset="18.8%" stop-color="#017670"/><stop offset="20.3%" stop-color="#027976"/><stop offset="21.9%" stop-color="#027b7d"/><stop offset="23.4%" stop-color="#027e83"/><stop offset="25%" stop-color="#028189"/><stop offset="26.6%" stop-color="#078390"/><stop offset="28.1%" stop-color="#0e8496"/><stop offset="29.7%" stop-color="#14869d"/><stop offset="31.2%" stop-color="#1b88a4"/><stop offset="32.8%" stop-color="#218aab"/><stop offset="34.4%" stop-color="#288cb1"/><stop offset="35.9%" stop-color="#2e8eb8"/><stop offset="37.5%" stop-color="#3590bf"/><stop offset="39.1%" stop-color="#3b93c2"/><stop offset="40.6%" stop-color="#4196c3"/><stop offset="42.2%" stop-color="#4799c5"/><stop offset="43.8%" stop-color="#4e9cc7"/><stop offset="45.3%" stop-color="#549fc9"/><stop offset="46.9%" stop-color="#5aa2cb"/><stop offset="48.4%" stop-color="#60a5cd"/><stop offset="50%" stop-color="#66a9cf"/><stop offset="51.6%" stop-color="#6eabd0"/><stop offset="53.1%" stop-color="#76aed2"/><stop offset="54.7%" stop-color="#7eb0d3"/><stop offset="56.2%" stop-color="#86b3d5"/><stop offset="57.8%" stop-color="#8eb5d6"/><stop offset="59.4%" stop-color="#95b8d8"/><stop offset="60.9%" stop-color="#9dbad9"/><stop offset="62.5%" stop-color="#a5bddb"/><stop offset="64.1%" stop-color="#abbfdc"/><stop offset="65.6%" stop-color="#b0c2de"/><stop offset="67.2%" stop-color="#b5c4df"/><stop offset="68.8%" stop-color="#bbc7e0"/><stop offset="70.3%" stop-color="#c0c9e2"/><stop offset="71.9%" stop-color="#c5cce3"/><stop offset="73.4%" stop-color="#cacee5"/><stop offset="75%" stop-color="#d0d1e6"/><stop offset="76.6%" stop-color="#d3d3e7"/><stop offset="78.1%" stop-color="#d7d5e8"/><stop offset="79.7%" stop-color="#dad7ea"/><stop offset="81.2%" stop-color="#ded9eb"/><stop offset="82.8%" stop-color="#e1dcec"/><stop offset="84.4%" stop-color="#e5deed"/><stop offset="85.9%" stop-color="#e8e0ef"/><stop offset="87.5%" stop-color="#ece2f0"/><stop offset="89.1%" stop-color="#eee5f1"/><stop offset="90.6%" stop-color="#f1e7f3"/><stop offset="92.2%" stop-color="#f3eaf4"/><stop offset="93.8%" stop-color="#f5ecf5"/><stop offset="95.3%" stop-color="#f8eff7"/><stop offset="96.9%" stop-color="#faf2f8"/><stop offset="98.4%" stop-color="#fdf4fa"/><stop offset="100%" stop-color="#fff7fb"/></linearGradient><rect x="500.3" y="225.3" width="10.3" height="160" fill="url(#gd)" stroke="#777" stroke-width="0.5"/><text x="513.2" y="388.1">0</text><text x="513.2" y="368.1">2</text><text x="513.2" y="348.1">4</text><text x="513.2" y="328.1">6</text><text x="513.2" y="308.1">8</text><text x="513.2" y="288.1">10</text><text x="513.2" y="268.1">12</text><text x="513.2" y="248.1">14</text><text x="513.2" y="228.1">16</text><path d="M510.6 385.3h-1.6M510.6 365.3h-1.6M510.6 345.3h-1.6M510.6 325.3h-1.6M510.6 305.3h-1.6M510.6 285.3h-1.6M510.6 265.3h-1.6M510.6 245.3h-1.6M510.6 225.3h-1.6" stroke="#444" stroke-width="0.5" fill="none"/>
</svg>
</body></html>
